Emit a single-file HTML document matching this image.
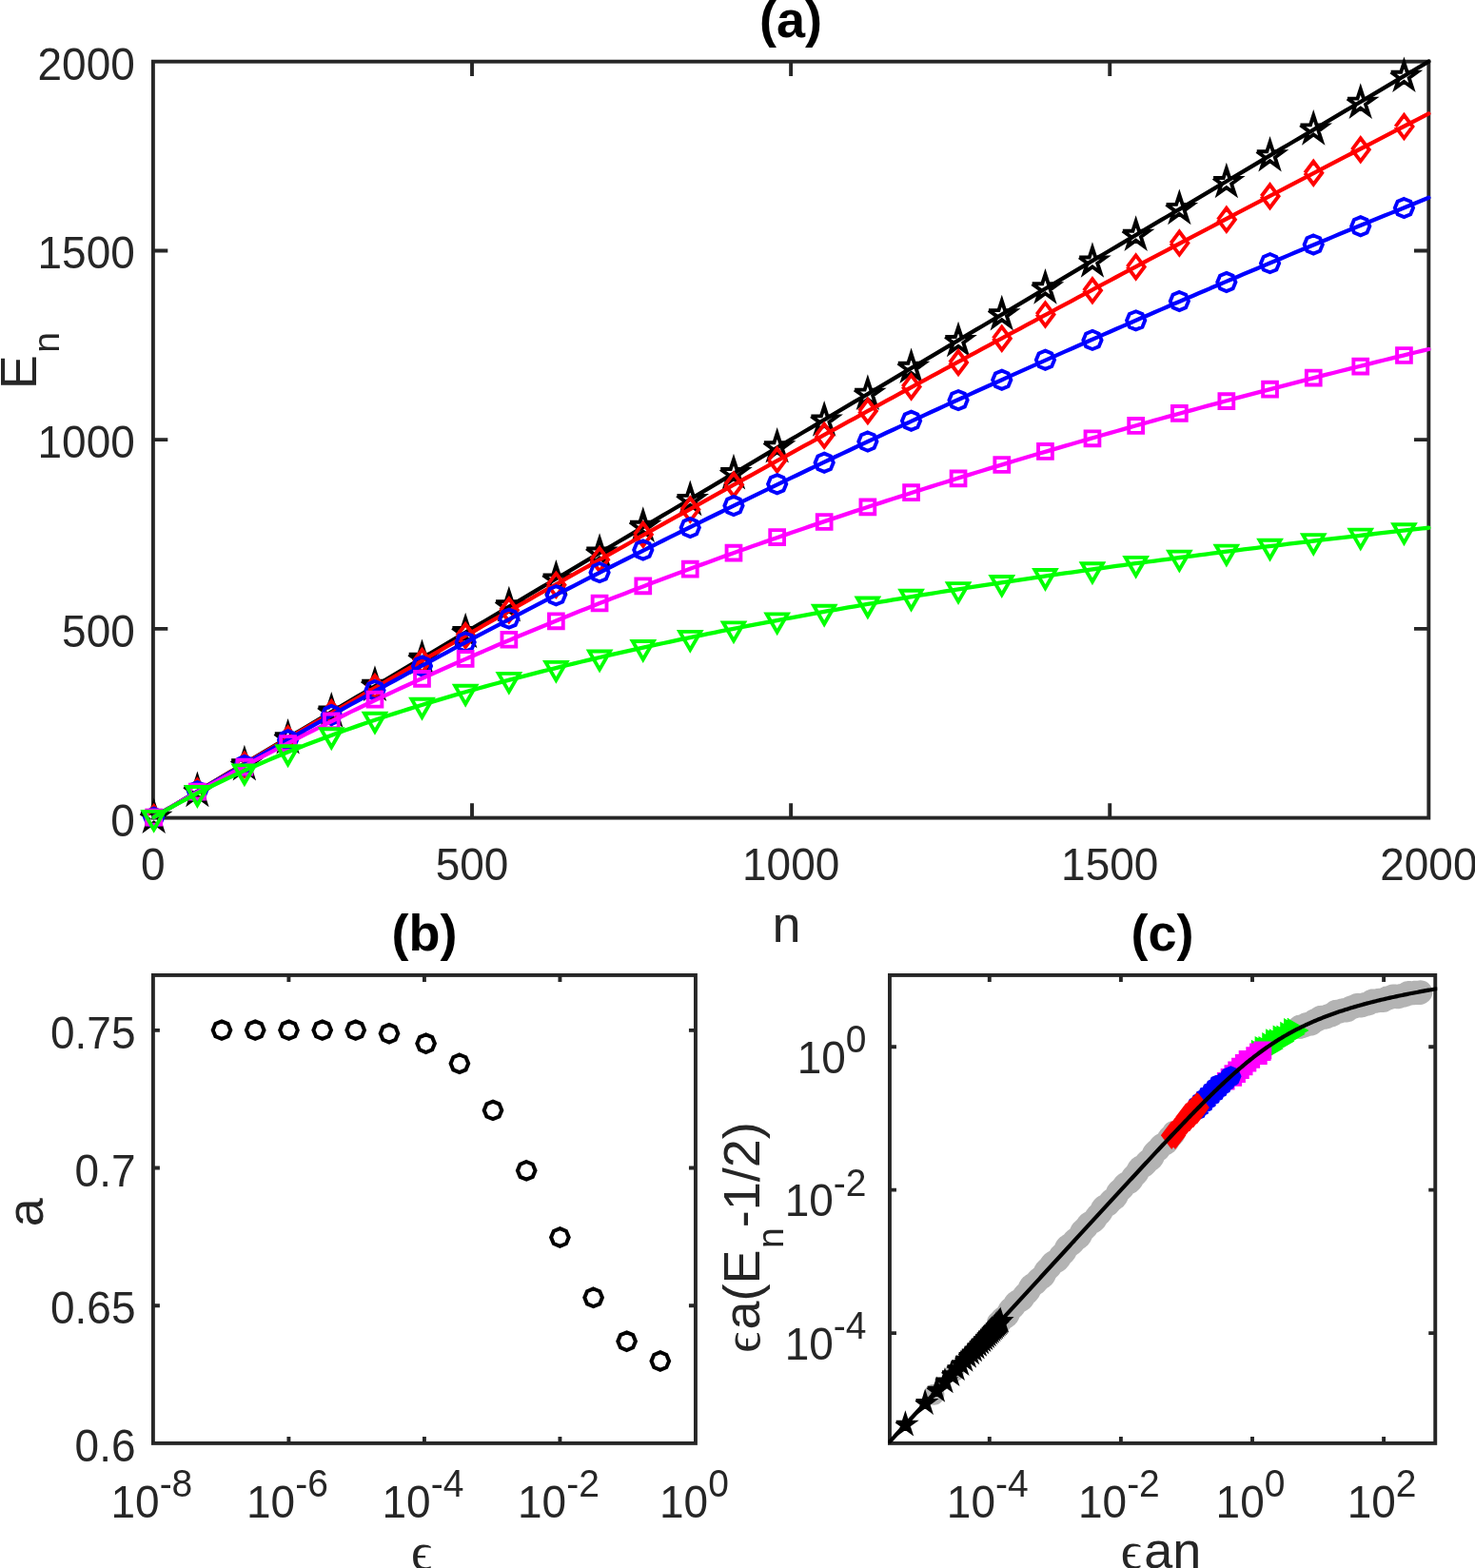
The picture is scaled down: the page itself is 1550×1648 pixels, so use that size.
<!DOCTYPE html>
<html><head><meta charset="utf-8"><title>figure</title>
<style>
html,body{margin:0;padding:0;background:#fff;}
body{width:1550px;height:1648px;overflow:hidden;}
svg{display:block;font-family:"Liberation Sans", Arial, sans-serif;}
</style></head><body>
<svg width="1550" height="1648" viewBox="0 0 1550 1648">
<rect width="1550" height="1648" fill="#fff"/>
<defs><clipPath id="ca"><rect x="157.9" y="61.7" width="1346.45" height="800.9"/></clipPath><clipPath id="cc"><rect x="932.95" y="1022.95" width="577.3" height="495.95"/></clipPath></defs>
<path d="M496.01 859.6V844.2M496.01 64.7V80.1M831.12 859.6V844.2M831.12 64.7V80.1M1166.24 859.6V844.2M1166.24 64.7V80.1M160.9 660.88H176.3M1501.35 660.88H1485.95M160.9 462.15H176.3M1501.35 462.15H1485.95M160.9 263.43H176.3M1501.35 263.43H1485.95" stroke="#262626" stroke-width="3.9" fill="none"/>
<rect x="160.9" y="64.7" width="1340.45" height="794.9" fill="none" stroke="#262626" stroke-width="3.9" stroke-linejoin="miter"/>
<path d="M161.57 859L167.6 855.43L174.3 851.45L181.01 847.48L187.71 843.5L194.41 839.53L201.11 835.55L207.82 831.58L214.52 827.61L221.22 823.63L227.92 819.66L234.62 815.68L241.33 811.71L248.03 807.73L254.73 803.76L261.43 799.78L268.14 795.81L274.84 791.84L281.54 787.86L288.24 783.89L294.94 779.91L301.65 775.94L308.35 771.96L315.05 767.99L321.75 764.01L328.46 760.04L335.16 756.07L341.86 752.09L348.56 748.12L355.27 744.14L361.97 740.17L368.67 736.19L375.37 732.22L382.07 728.24L388.78 724.27L395.48 720.3L402.18 716.32L408.88 712.35L415.59 708.37L422.29 704.4L428.99 700.42L435.69 696.45L442.39 692.47L449.1 688.5L455.8 684.53L462.5 680.55L469.2 676.58L475.91 672.6L482.61 668.63L489.31 664.65L496.01 660.68L502.71 656.71L509.42 652.73L516.12 648.76L522.82 644.78L529.52 640.81L536.23 636.83L542.93 632.86L549.63 628.89L556.33 624.91L563.03 620.94L569.74 616.96L576.44 612.99L583.14 609.01L589.84 605.04L596.55 601.07L603.25 597.09L609.95 593.12L616.65 589.14L623.36 585.17L630.06 581.19L636.76 577.22L643.46 573.25L650.16 569.27L656.87 565.3L663.57 561.32L670.27 557.35L676.97 553.37L683.68 549.4L690.38 545.43L697.08 541.45L703.78 537.48L710.48 533.5L717.19 529.53L723.89 525.55L730.59 521.58L737.29 517.61L744 513.63L750.7 509.66L757.4 505.68L764.1 501.71L770.8 497.73L777.51 493.76L784.21 489.79L790.91 485.81L797.61 481.84L804.32 477.86L811.02 473.89L817.72 469.91L824.42 465.94L831.12 461.97L837.83 457.99L844.53 454.02L851.23 450.04L857.93 446.07L864.64 442.1L871.34 438.12L878.04 434.15L884.74 430.17L891.45 426.2L898.15 422.22L904.85 418.25L911.55 414.28L918.25 410.3L924.96 406.33L931.66 402.35L938.36 398.38L945.06 394.41L951.77 390.43L958.47 386.46L965.17 382.48L971.87 378.51L978.57 374.53L985.28 370.56L991.98 366.59L998.68 362.61L1005.38 358.64L1012.09 354.66L1018.79 350.69L1025.49 346.72L1032.19 342.74L1038.89 338.77L1045.6 334.79L1052.3 330.82L1059 326.85L1065.7 322.87L1072.41 318.9L1079.11 314.92L1085.81 310.95L1092.51 306.97L1099.21 303L1105.92 299.03L1112.62 295.05L1119.32 291.08L1126.02 287.1L1132.73 283.13L1139.43 279.16L1146.13 275.18L1152.83 271.21L1159.54 267.23L1166.24 263.26L1172.94 259.29L1179.64 255.31L1186.34 251.34L1193.05 247.36L1199.75 243.39L1206.45 239.42L1213.15 235.44L1219.86 231.47L1226.56 227.49L1233.26 223.52L1239.96 219.55L1246.66 215.57L1253.37 211.6L1260.07 207.62L1266.77 203.65L1273.47 199.68L1280.18 195.7L1286.88 191.73L1293.58 187.75L1300.28 183.78L1306.98 179.81L1313.69 175.83L1320.39 171.86L1327.09 167.88L1333.79 163.91L1340.5 159.94L1347.2 155.96L1353.9 151.99L1360.6 148.01L1367.3 144.04L1374.01 140.07L1380.71 136.09L1387.41 132.12L1394.11 128.14L1400.82 124.17L1407.52 120.2L1414.22 116.22L1420.92 112.25L1427.63 108.27L1434.33 104.3L1441.03 100.33L1447.73 96.35L1454.43 92.38L1461.14 88.4L1467.84 84.43L1474.54 80.46L1481.24 76.48L1487.95 72.51L1494.65 68.53L1501.35 64.56" fill="none" stroke="#000000" stroke-width="4.3" stroke-linejoin="round" stroke-linecap="round" clip-path="url(#ca)"/>
<path d="M147.9 854.72L158.43 854.72L161.69 844.7L164.94 854.72L175.48 854.72L166.95 860.91L170.21 870.93L161.69 864.74L153.16 870.93L156.42 860.91L147.9 854.72M193.59 826.9L204.13 826.9L207.38 816.88L210.64 826.9L221.17 826.9L212.65 833.09L215.9 843.11L207.38 836.92L198.86 843.11L202.11 833.09L193.59 826.9M243.1 799.08L253.63 799.08L256.89 789.06L260.14 799.08L270.68 799.08L262.15 805.27L265.41 815.29L256.89 809.1L248.36 815.29L251.62 805.27L243.1 799.08M288.79 771.26L299.33 771.26L302.58 761.24L305.84 771.26L316.37 771.26L307.85 777.45L311.1 787.47L302.58 781.28L294.06 787.47L297.31 777.45L288.79 771.26M334.49 743.44L345.02 743.44L348.28 733.42L351.53 743.44L362.07 743.44L353.55 749.63L356.8 759.65L348.28 753.46L339.76 759.65L343.01 749.63L334.49 743.44M380.18 715.62L390.72 715.62L393.97 705.6L397.23 715.62L407.76 715.62L399.24 721.81L402.5 731.83L393.97 725.64L385.45 731.83L388.71 721.81L380.18 715.62M429.69 687.8L440.22 687.8L443.48 677.78L446.73 687.8L457.27 687.8L448.75 693.99L452 704.01L443.48 697.82L434.96 704.01L438.21 693.99L429.69 687.8M475.38 659.97L485.92 659.97L489.17 649.96L492.43 659.97L502.96 659.97L494.44 666.17L497.7 676.19L489.17 669.99L480.65 676.19L483.91 666.17L475.38 659.97M521.08 632.15L531.61 632.15L534.87 622.14L538.13 632.15L548.66 632.15L540.14 638.35L543.39 648.37L534.87 642.17L526.35 648.37L529.6 638.35L521.08 632.15M570.58 604.33L581.12 604.33L584.37 594.31L587.63 604.33L598.16 604.33L589.64 610.53L592.9 620.55L584.37 614.35L575.85 620.55L579.11 610.53L570.58 604.33M616.28 576.51L626.81 576.51L630.07 566.49L633.33 576.51L643.86 576.51L635.34 582.71L638.59 592.73L630.07 586.53L621.55 592.73L624.8 582.71L616.28 576.51M661.98 548.69L672.51 548.69L675.77 538.67L679.02 548.69L689.56 548.69L681.03 554.89L684.29 564.91L675.77 558.71L667.24 564.91L670.5 554.89L661.98 548.69M711.48 520.87L722.01 520.87L725.27 510.86L728.53 520.87L739.06 520.87L730.54 527.07L733.79 537.09L725.27 530.89L716.75 537.09L720 527.07L711.48 520.87M757.18 493.05L767.71 493.05L770.97 483.04L774.22 493.05L784.76 493.05L776.23 499.25L779.49 509.27L770.97 503.07L762.44 509.27L765.7 499.25L757.18 493.05M802.87 465.24L813.41 465.23L816.66 455.22L819.92 465.23L830.45 465.24L821.93 471.43L825.18 481.45L816.66 475.25L808.14 481.45L811.39 471.43L802.87 465.24M852.38 437.42L862.91 437.42L866.17 427.4L869.42 437.42L879.96 437.42L871.43 443.61L874.69 453.63L866.17 447.44L857.64 453.63L860.9 443.61L852.38 437.42M898.07 409.6L908.61 409.6L911.86 399.58L915.12 409.6L925.65 409.6L917.13 415.79L920.38 425.81L911.86 419.62L903.34 425.81L906.59 415.79L898.07 409.6M943.77 381.78L954.3 381.78L957.56 371.76L960.81 381.78L971.35 381.78L962.83 387.97L966.08 397.99L957.56 391.8L949.04 397.99L952.29 387.97L943.77 381.78M993.27 353.96L1003.81 353.96L1007.06 343.94L1010.32 353.96L1020.85 353.96L1012.33 360.15L1015.58 370.17L1007.06 363.98L998.54 370.17L1001.79 360.15L993.27 353.96M1038.97 326.14L1049.5 326.14L1052.76 316.12L1056.01 326.14L1066.55 326.14L1058.03 332.33L1061.28 342.35L1052.76 336.16L1044.24 342.35L1047.49 332.33L1038.97 326.14M1084.66 298.32L1095.2 298.32L1098.45 288.3L1101.71 298.32L1112.24 298.32L1103.72 304.51L1106.98 314.53L1098.45 308.34L1089.93 314.53L1093.19 304.51L1084.66 298.32M1134.17 270.5L1144.7 270.5L1147.96 260.48L1151.21 270.5L1161.75 270.5L1153.23 276.69L1156.48 286.71L1147.96 280.52L1139.44 286.71L1142.69 276.69L1134.17 270.5M1179.86 242.68L1190.4 242.68L1193.65 232.66L1196.91 242.68L1207.44 242.68L1198.92 248.88L1202.18 258.9L1193.65 252.7L1185.13 258.9L1188.39 248.88L1179.86 242.68M1225.56 214.87L1236.09 214.87L1239.35 204.85L1242.61 214.87L1253.14 214.87L1244.62 221.06L1247.87 231.08L1239.35 224.89L1230.83 231.08L1234.08 221.06L1225.56 214.87M1275.06 187.05L1285.6 187.05L1288.85 177.03L1292.11 187.05L1302.64 187.05L1294.12 193.24L1297.38 203.26L1288.85 197.07L1280.33 203.26L1283.59 193.24L1275.06 187.05M1320.76 159.23L1331.29 159.23L1334.55 149.21L1337.81 159.23L1348.34 159.23L1339.82 165.42L1343.07 175.44L1334.55 169.25L1326.03 175.44L1329.28 165.42L1320.76 159.23M1366.46 131.41L1376.99 131.41L1380.25 121.39L1383.5 131.41L1394.04 131.41L1385.51 137.6L1388.77 147.62L1380.25 141.43L1371.72 147.62L1374.98 137.6L1366.46 131.41M1415.96 103.59L1426.49 103.59L1429.75 93.58L1433.01 103.59L1443.54 103.59L1435.02 109.79L1438.27 119.81L1429.75 113.61L1421.23 119.81L1424.48 109.79L1415.96 103.59M1461.66 75.78L1472.19 75.78L1475.45 65.76L1478.7 75.78L1489.24 75.78L1480.71 81.97L1483.97 91.99L1475.45 85.8L1466.92 91.99L1470.18 81.97L1461.66 75.78" fill="none" stroke="#000000" stroke-width="3.9" stroke-linejoin="miter" stroke-miterlimit="10" stroke-linecap="butt"/>
<path d="M161.57 859L167.6 855.43L174.3 851.46L181.01 847.49L187.71 843.53L194.41 839.57L201.11 835.61L207.82 831.65L214.52 827.7L221.22 823.75L227.92 819.81L234.62 815.86L241.33 811.92L248.03 807.99L254.73 804.05L261.43 800.12L268.14 796.19L274.84 792.27L281.54 788.35L288.24 784.43L294.94 780.51L301.65 776.6L308.35 772.69L315.05 768.78L321.75 764.87L328.46 760.97L335.16 757.07L341.86 753.18L348.56 749.28L355.27 745.39L361.97 741.51L368.67 737.62L375.37 733.74L382.07 729.86L388.78 725.98L395.48 722.11L402.18 718.24L408.88 714.37L415.59 710.51L422.29 706.65L428.99 702.79L435.69 698.93L442.39 695.08L449.1 691.23L455.8 687.38L462.5 683.54L469.2 679.7L475.91 675.86L482.61 672.02L489.31 668.19L496.01 664.36L502.71 660.53L509.42 656.71L516.12 652.88L522.82 649.07L529.52 645.25L536.23 641.44L542.93 637.62L549.63 633.82L556.33 630.01L563.03 626.21L569.74 622.41L576.44 618.61L583.14 614.82L589.84 611.03L596.55 607.24L603.25 603.45L609.95 599.67L616.65 595.89L623.36 592.11L630.06 588.33L636.76 584.56L643.46 580.79L650.16 577.03L656.87 573.26L663.57 569.5L670.27 565.74L676.97 561.98L683.68 558.23L690.38 554.48L697.08 550.73L703.78 546.99L710.48 543.24L717.19 539.5L723.89 535.77L730.59 532.03L737.29 528.3L744 524.57L750.7 520.84L757.4 517.12L764.1 513.4L770.8 509.68L777.51 505.96L784.21 502.25L790.91 498.54L797.61 494.83L804.32 491.13L811.02 487.42L817.72 483.72L824.42 480.03L831.12 476.33L837.83 472.64L844.53 468.95L851.23 465.26L857.93 461.58L864.64 457.89L871.34 454.21L878.04 450.54L884.74 446.86L891.45 443.19L898.15 439.52L904.85 435.86L911.55 432.19L918.25 428.53L924.96 424.87L931.66 421.22L938.36 417.56L945.06 413.91L951.77 410.26L958.47 406.62L965.17 402.97L971.87 399.33L978.57 395.69L985.28 392.06L991.98 388.42L998.68 384.79L1005.38 381.16L1012.09 377.54L1018.79 373.91L1025.49 370.29L1032.19 366.67L1038.89 363.06L1045.6 359.45L1052.3 355.83L1059 352.23L1065.7 348.62L1072.41 345.02L1079.11 341.42L1085.81 337.82L1092.51 334.22L1099.21 330.63L1105.92 327.04L1112.62 323.45L1119.32 319.86L1126.02 316.28L1132.73 312.7L1139.43 309.12L1146.13 305.54L1152.83 301.97L1159.54 298.4L1166.24 294.83L1172.94 291.26L1179.64 287.7L1186.34 284.14L1193.05 280.58L1199.75 277.02L1206.45 273.47L1213.15 269.91L1219.86 266.36L1226.56 262.82L1233.26 259.27L1239.96 255.73L1246.66 252.19L1253.37 248.65L1260.07 245.12L1266.77 241.58L1273.47 238.05L1280.18 234.52L1286.88 231L1293.58 227.48L1300.28 223.95L1306.98 220.44L1313.69 216.92L1320.39 213.41L1327.09 209.89L1333.79 206.39L1340.5 202.88L1347.2 199.37L1353.9 195.87L1360.6 192.37L1367.3 188.88L1374.01 185.38L1380.71 181.89L1387.41 178.4L1394.11 174.91L1400.82 171.42L1407.52 167.94L1414.22 164.46L1420.92 160.98L1427.63 157.5L1434.33 154.03L1441.03 150.56L1447.73 147.09L1454.43 143.62L1461.14 140.16L1467.84 136.69L1474.54 133.23L1481.24 129.77L1487.95 126.32L1494.65 122.87L1501.35 119.41" fill="none" stroke="#ff0000" stroke-width="4.3" stroke-linejoin="round" stroke-linecap="round" clip-path="url(#ca)"/>
<path d="M152.69 859.2L161.69 847.2L170.69 859.2L161.69 871.2L152.69 859.2M198.38 831.46L207.38 819.46L216.38 831.46L207.38 843.46L198.38 831.46M247.89 803.86L256.89 791.86L265.89 803.86L256.89 815.86L247.89 803.86M293.58 776.4L302.58 764.4L311.58 776.4L302.58 788.4L293.58 776.4M339.28 749.09L348.28 737.09L357.28 749.09L348.28 761.09L339.28 749.09M384.97 721.92L393.97 709.92L402.97 721.92L393.97 733.92L384.97 721.92M434.48 694.89L443.48 682.89L452.48 694.89L443.48 706.89L434.48 694.89M480.17 668L489.17 656L498.17 668L489.17 680L480.17 668M525.87 641.24L534.87 629.24L543.87 641.24L534.87 653.24L525.87 641.24M575.37 614.63L584.37 602.63L593.37 614.63L584.37 626.63L575.37 614.63M621.07 588.15L630.07 576.15L639.07 588.15L630.07 600.15L621.07 588.15M666.77 561.8L675.77 549.8L684.77 561.8L675.77 573.8L666.77 561.8M716.27 535.58L725.27 523.58L734.27 535.58L725.27 547.58L716.27 535.58M761.97 509.49L770.97 497.49L779.97 509.49L770.97 521.49L761.97 509.49M807.66 483.54L816.66 471.54L825.66 483.54L816.66 495.54L807.66 483.54M857.17 457.71L866.17 445.71L875.17 457.71L866.17 469.71L857.17 457.71M902.86 432.01L911.86 420.01L920.86 432.01L911.86 444.01L902.86 432.01M948.56 406.43L957.56 394.43L966.56 406.43L957.56 418.43L948.56 406.43M998.06 380.98L1007.06 368.98L1016.06 380.98L1007.06 392.98L998.06 380.98M1043.76 355.65L1052.76 343.65L1061.76 355.65L1052.76 367.65L1043.76 355.65M1089.45 330.45L1098.45 318.45L1107.45 330.45L1098.45 342.45L1089.45 330.45M1138.96 305.36L1147.96 293.36L1156.96 305.36L1147.96 317.36L1138.96 305.36M1184.65 280.4L1193.65 268.4L1202.65 280.4L1193.65 292.4L1184.65 280.4M1230.35 255.55L1239.35 243.55L1248.35 255.55L1239.35 267.55L1230.35 255.55M1279.85 230.82L1288.85 218.82L1297.85 230.82L1288.85 242.82L1279.85 230.82M1325.55 206.21L1334.55 194.21L1343.55 206.21L1334.55 218.21L1325.55 206.21M1371.25 181.71L1380.25 169.71L1389.25 181.71L1380.25 193.71L1371.25 181.71M1420.75 157.33L1429.75 145.33L1438.75 157.33L1429.75 169.33L1420.75 157.33M1466.45 133.06L1475.45 121.06L1484.45 133.06L1475.45 145.06L1466.45 133.06" fill="none" stroke="#ff0000" stroke-width="3.9" stroke-linejoin="miter" stroke-miterlimit="10" stroke-linecap="butt"/>
<path d="M161.57 859L167.6 855.43L174.3 851.47L181.01 847.52L187.71 843.58L194.41 839.64L201.11 835.72L207.82 831.81L214.52 827.9L221.22 824L227.92 820.12L234.62 816.24L241.33 812.37L248.03 808.51L254.73 804.65L261.43 800.81L268.14 796.98L274.84 793.15L281.54 789.33L288.24 785.52L294.94 781.72L301.65 777.93L308.35 774.15L315.05 770.37L321.75 766.61L328.46 762.85L335.16 759.1L341.86 755.36L348.56 751.62L355.27 747.9L361.97 744.18L368.67 740.47L375.37 736.77L382.07 733.08L388.78 729.4L395.48 725.72L402.18 722.05L408.88 718.39L415.59 714.74L422.29 711.09L428.99 707.46L435.69 703.83L442.39 700.21L449.1 696.59L455.8 692.99L462.5 689.39L469.2 685.8L475.91 682.21L482.61 678.64L489.31 675.07L496.01 671.51L502.71 667.96L509.42 664.41L516.12 660.87L522.82 657.34L529.52 653.82L536.23 650.3L542.93 646.8L549.63 643.29L556.33 639.8L563.03 636.31L569.74 632.83L576.44 629.36L583.14 625.9L589.84 622.44L596.55 618.99L603.25 615.54L609.95 612.1L616.65 608.67L623.36 605.25L630.06 601.83L636.76 598.42L643.46 595.02L650.16 591.63L656.87 588.24L663.57 584.85L670.27 581.48L676.97 578.11L683.68 574.75L690.38 571.39L697.08 568.04L703.78 564.7L710.48 561.37L717.19 558.04L723.89 554.71L730.59 551.4L737.29 548.09L744 544.78L750.7 541.49L757.4 538.2L764.1 534.91L770.8 531.64L777.51 528.37L784.21 525.1L790.91 521.84L797.61 518.59L804.32 515.34L811.02 512.1L817.72 508.87L824.42 505.64L831.12 502.42L837.83 499.21L844.53 496L851.23 492.79L857.93 489.6L864.64 486.41L871.34 483.22L878.04 480.04L884.74 476.87L891.45 473.7L898.15 470.54L904.85 467.39L911.55 464.24L918.25 461.09L924.96 457.96L931.66 454.82L938.36 451.7L945.06 448.58L951.77 445.46L958.47 442.36L965.17 439.25L971.87 436.15L978.57 433.06L985.28 429.98L991.98 426.9L998.68 423.82L1005.38 420.75L1012.09 417.69L1018.79 414.63L1025.49 411.58L1032.19 408.53L1038.89 405.49L1045.6 402.45L1052.3 399.42L1059 396.4L1065.7 393.38L1072.41 390.36L1079.11 387.35L1085.81 384.35L1092.51 381.35L1099.21 378.36L1105.92 375.37L1112.62 372.39L1119.32 369.41L1126.02 366.44L1132.73 363.47L1139.43 360.51L1146.13 357.55L1152.83 354.6L1159.54 351.65L1166.24 348.71L1172.94 345.78L1179.64 342.85L1186.34 339.92L1193.05 337L1199.75 334.08L1206.45 331.17L1213.15 328.27L1219.86 325.37L1226.56 322.47L1233.26 319.58L1239.96 316.69L1246.66 313.81L1253.37 310.94L1260.07 308.06L1266.77 305.2L1273.47 302.34L1280.18 299.48L1286.88 296.63L1293.58 293.78L1300.28 290.94L1306.98 288.1L1313.69 285.27L1320.39 282.44L1327.09 279.62L1333.79 276.8L1340.5 273.98L1347.2 271.17L1353.9 268.37L1360.6 265.57L1367.3 262.77L1374.01 259.98L1380.71 257.2L1387.41 254.42L1394.11 251.64L1400.82 248.87L1407.52 246.1L1414.22 243.34L1420.92 240.58L1427.63 237.82L1434.33 235.07L1441.03 232.33L1447.73 229.59L1454.43 226.85L1461.14 224.12L1467.84 221.39L1474.54 218.67L1481.24 215.95L1487.95 213.23L1494.65 210.52L1501.35 207.82" fill="none" stroke="#0000ff" stroke-width="4.3" stroke-linejoin="round" stroke-linecap="round" clip-path="url(#ca)"/>
<path d="M161.69 849.6L168.47 852.41L171.29 859.2L168.47 865.99L161.69 868.8L154.9 865.99L152.09 859.2L154.9 852.41ZM207.38 822.01L214.17 824.82L216.98 831.61L214.17 838.4L207.38 841.21L200.59 838.4L197.78 831.61L200.59 824.82ZM256.89 794.86L263.67 797.67L266.49 804.46L263.67 811.25L256.89 814.06L250.1 811.25L247.29 804.46L250.1 797.67ZM302.58 768.14L309.37 770.95L312.18 777.74L309.37 784.53L302.58 787.34L295.79 784.53L292.98 777.74L295.79 770.95ZM348.28 741.84L355.07 744.65L357.88 751.44L355.07 758.23L348.28 761.04L341.49 758.23L338.68 751.44L341.49 744.65ZM393.97 715.94L400.76 718.75L403.57 725.54L400.76 732.32L393.97 735.14L387.19 732.32L384.37 725.54L387.19 718.75ZM443.48 690.42L450.27 693.24L453.08 700.02L450.27 706.81L443.48 709.62L436.69 706.81L433.88 700.02L436.69 693.24ZM489.17 665.29L495.96 668.1L498.77 674.89L495.96 681.68L489.17 684.49L482.39 681.68L479.57 674.89L482.39 668.1ZM534.87 640.53L541.66 643.34L544.47 650.13L541.66 656.92L534.87 659.73L528.08 656.92L525.27 650.13L528.08 643.34ZM584.37 616.12L591.16 618.93L593.97 625.72L591.16 632.51L584.37 635.32L577.59 632.51L574.77 625.72L577.59 618.93ZM630.07 592.06L636.86 594.87L639.67 601.66L636.86 608.45L630.07 611.26L623.28 608.45L620.47 601.66L623.28 594.87ZM675.77 568.34L682.55 571.15L685.37 577.94L682.55 584.73L675.77 587.54L668.98 584.73L666.17 577.94L668.98 571.15ZM725.27 544.95L732.06 547.76L734.87 554.55L732.06 561.34L725.27 564.15L718.48 561.34L715.67 554.55L718.48 547.76ZM770.97 521.87L777.75 524.68L780.57 531.47L777.75 538.26L770.97 541.07L764.18 538.26L761.37 531.47L764.18 524.68ZM816.66 499.11L823.45 501.92L826.26 508.71L823.45 515.5L816.66 518.31L809.87 515.5L807.06 508.71L809.87 501.92ZM866.17 476.65L872.95 479.46L875.77 486.25L872.95 493.04L866.17 495.85L859.38 493.04L856.57 486.25L859.38 479.46ZM911.86 454.48L918.65 457.29L921.46 464.08L918.65 470.87L911.86 473.68L905.07 470.87L902.26 464.08L905.07 457.29ZM957.56 432.6L964.35 435.41L967.16 442.2L964.35 448.99L957.56 451.8L950.77 448.99L947.96 442.2L950.77 435.41ZM1007.06 411L1013.85 413.81L1016.66 420.6L1013.85 427.39L1007.06 430.2L1000.27 427.39L997.46 420.6L1000.27 413.81ZM1052.76 389.67L1059.55 392.48L1062.36 399.27L1059.55 406.06L1052.76 408.87L1045.97 406.06L1043.16 399.27L1045.97 392.48ZM1098.45 368.61L1105.24 371.42L1108.05 378.21L1105.24 385L1098.45 387.81L1091.67 385L1088.85 378.21L1091.67 371.42ZM1147.96 347.8L1154.75 350.62L1157.56 357.4L1154.75 364.19L1147.96 367L1141.17 364.19L1138.36 357.4L1141.17 350.62ZM1193.65 327.25L1200.44 330.06L1203.25 336.85L1200.44 343.64L1193.65 346.45L1186.87 343.64L1184.05 336.85L1186.87 330.06ZM1239.35 306.95L1246.14 309.76L1248.95 316.55L1246.14 323.34L1239.35 326.15L1232.56 323.34L1229.75 316.55L1232.56 309.76ZM1288.85 286.88L1295.64 289.7L1298.45 296.48L1295.64 303.27L1288.85 306.08L1282.07 303.27L1279.25 296.48L1282.07 289.7ZM1334.55 267.06L1341.34 269.87L1344.15 276.66L1341.34 283.44L1334.55 286.26L1327.76 283.44L1324.95 276.66L1327.76 269.87ZM1380.25 247.46L1387.03 250.27L1389.85 257.06L1387.03 263.85L1380.25 266.66L1373.46 263.85L1370.65 257.06L1373.46 250.27ZM1429.75 228.08L1436.54 230.9L1439.35 237.68L1436.54 244.47L1429.75 247.28L1422.96 244.47L1420.15 237.68L1422.96 230.9ZM1475.45 208.93L1482.23 211.74L1485.05 218.53L1482.23 225.32L1475.45 228.13L1468.66 225.32L1465.85 218.53L1468.66 211.74Z" fill="none" stroke="#0000ff" stroke-width="3.9" stroke-linejoin="miter" stroke-miterlimit="10" stroke-linecap="butt"/>
<path d="M161.57 859L167.6 855.44L174.3 851.51L181.01 847.6L187.71 843.73L194.41 839.88L201.11 836.06L207.82 832.26L214.52 828.49L221.22 824.74L227.92 821.02L234.62 817.33L241.33 813.66L248.03 810.01L254.73 806.39L261.43 802.79L268.14 799.21L274.84 795.66L281.54 792.13L288.24 788.62L294.94 785.14L301.65 781.68L308.35 778.23L315.05 774.81L321.75 771.41L328.46 768.04L335.16 764.68L341.86 761.34L348.56 758.02L355.27 754.72L361.97 751.45L368.67 748.19L375.37 744.95L382.07 741.73L388.78 738.52L395.48 735.34L402.18 732.17L408.88 729.03L415.59 725.9L422.29 722.79L428.99 719.69L435.69 716.61L442.39 713.55L449.1 710.51L455.8 707.48L462.5 704.47L469.2 701.48L475.91 698.5L482.61 695.54L489.31 692.6L496.01 689.67L502.71 686.75L509.42 683.85L516.12 680.97L522.82 678.1L529.52 675.24L536.23 672.4L542.93 669.58L549.63 666.77L556.33 663.97L563.03 661.19L569.74 658.42L576.44 655.67L583.14 652.92L589.84 650.2L596.55 647.48L603.25 644.78L609.95 642.09L616.65 639.42L623.36 636.76L630.06 634.11L636.76 631.47L643.46 628.85L650.16 626.24L656.87 623.64L663.57 621.05L670.27 618.48L676.97 615.91L683.68 613.36L690.38 610.82L697.08 608.3L703.78 605.78L710.48 603.27L717.19 600.78L723.89 598.3L730.59 595.83L737.29 593.37L744 590.92L750.7 588.48L757.4 586.05L764.1 583.64L770.8 581.23L777.51 578.83L784.21 576.45L790.91 574.07L797.61 571.71L804.32 569.35L811.02 567.01L817.72 564.67L824.42 562.35L831.12 560.03L837.83 557.72L844.53 555.43L851.23 553.14L857.93 550.86L864.64 548.6L871.34 546.34L878.04 544.09L884.74 541.85L891.45 539.62L898.15 537.39L904.85 535.18L911.55 532.98L918.25 530.78L924.96 528.59L931.66 526.41L938.36 524.24L945.06 522.08L951.77 519.93L958.47 517.78L965.17 515.65L971.87 513.52L978.57 511.4L985.28 509.29L991.98 507.18L998.68 505.09L1005.38 503L1012.09 500.92L1018.79 498.85L1025.49 496.78L1032.19 494.73L1038.89 492.68L1045.6 490.64L1052.3 488.6L1059 486.58L1065.7 484.56L1072.41 482.55L1079.11 480.54L1085.81 478.54L1092.51 476.55L1099.21 474.57L1105.92 472.59L1112.62 470.63L1119.32 468.66L1126.02 466.71L1132.73 464.76L1139.43 462.82L1146.13 460.89L1152.83 458.96L1159.54 457.04L1166.24 455.12L1172.94 453.22L1179.64 451.32L1186.34 449.42L1193.05 447.53L1199.75 445.65L1206.45 443.78L1213.15 441.91L1219.86 440.05L1226.56 438.19L1233.26 436.34L1239.96 434.5L1246.66 432.66L1253.37 430.83L1260.07 429L1266.77 427.18L1273.47 425.37L1280.18 423.56L1286.88 421.76L1293.58 419.96L1300.28 418.17L1306.98 416.39L1313.69 414.61L1320.39 412.84L1327.09 411.07L1333.79 409.31L1340.5 407.55L1347.2 405.8L1353.9 404.06L1360.6 402.32L1367.3 400.58L1374.01 398.86L1380.71 397.13L1387.41 395.42L1394.11 393.7L1400.82 392L1407.52 390.29L1414.22 388.6L1420.92 386.91L1427.63 385.22L1434.33 383.54L1441.03 381.86L1447.73 380.19L1454.43 378.53L1461.14 376.87L1467.84 375.21L1474.54 373.56L1481.24 371.91L1487.95 370.27L1494.65 368.64L1501.35 367.01" fill="none" stroke="#ff00ff" stroke-width="4.3" stroke-linejoin="round" stroke-linecap="round" clip-path="url(#ca)"/>
<path d="M154.29 851.8L169.09 851.8L169.09 866.6L154.29 866.6ZM199.98 824.67L214.78 824.67L214.78 839.47L199.98 839.47ZM249.49 798.81L264.29 798.81L264.29 813.61L249.49 813.61ZM295.18 774.1L309.98 774.1L309.98 788.9L295.18 788.9ZM340.88 750.46L355.68 750.46L355.68 765.26L340.88 765.26ZM386.57 727.78L401.37 727.78L401.37 742.58L386.57 742.58ZM436.08 706L450.88 706L450.88 720.8L436.08 720.8ZM481.77 685.05L496.57 685.05L496.57 699.85L481.77 699.85ZM527.47 664.86L542.27 664.86L542.27 679.66L527.47 679.66ZM576.97 645.39L591.77 645.39L591.77 660.19L576.97 660.19ZM622.67 626.58L637.47 626.58L637.47 641.38L622.67 641.38ZM668.37 608.39L683.17 608.39L683.17 623.19L668.37 623.19ZM717.87 590.78L732.67 590.78L732.67 605.58L717.87 605.58ZM763.57 573.71L778.37 573.71L778.37 588.51L763.57 588.51ZM809.26 557.16L824.06 557.16L824.06 571.96L809.26 571.96ZM858.77 541.08L873.57 541.08L873.57 555.88L858.77 555.88ZM904.46 525.47L919.26 525.47L919.26 540.27L904.46 540.27ZM950.16 510.28L964.96 510.28L964.96 525.08L950.16 525.08ZM999.66 495.5L1014.46 495.5L1014.46 510.3L999.66 510.3ZM1045.36 481.1L1060.16 481.1L1060.16 495.9L1045.36 495.9ZM1091.05 467.07L1105.85 467.07L1105.85 481.87L1091.05 481.87ZM1140.56 453.39L1155.36 453.39L1155.36 468.19L1140.56 468.19ZM1186.25 440.04L1201.05 440.04L1201.05 454.84L1186.25 454.84ZM1231.95 427L1246.75 427L1246.75 441.8L1231.95 441.8ZM1281.45 414.27L1296.25 414.27L1296.25 429.07L1281.45 429.07ZM1327.15 401.82L1341.95 401.82L1341.95 416.62L1327.15 416.62ZM1372.85 389.65L1387.65 389.65L1387.65 404.45L1372.85 404.45ZM1422.35 377.74L1437.15 377.74L1437.15 392.54L1422.35 392.54ZM1468.05 366.08L1482.85 366.08L1482.85 380.88L1468.05 380.88Z" fill="none" stroke="#ff00ff" stroke-width="3.9" stroke-linejoin="miter" stroke-miterlimit="10" stroke-linecap="butt"/>
<path d="M161.57 859L167.6 855.47L174.3 851.62L181.01 847.85L187.71 844.16L194.41 840.55L201.11 837L207.82 833.52L214.52 830.11L221.22 826.76L227.92 823.48L234.62 820.25L241.33 817.08L248.03 813.96L254.73 810.89L261.43 807.88L268.14 804.92L274.84 802L281.54 799.13L288.24 796.31L294.94 793.53L301.65 790.79L308.35 788.09L315.05 785.43L321.75 782.81L328.46 780.23L335.16 777.68L341.86 775.17L348.56 772.69L355.27 770.25L361.97 767.84L368.67 765.46L375.37 763.11L382.07 760.8L388.78 758.51L395.48 756.25L402.18 754.02L408.88 751.81L415.59 749.63L422.29 747.48L428.99 745.36L435.69 743.25L442.39 741.18L449.1 739.12L455.8 737.09L462.5 735.08L469.2 733.1L475.91 731.13L482.61 729.19L489.31 727.27L496.01 725.36L502.71 723.48L509.42 721.62L516.12 719.77L522.82 717.95L529.52 716.14L536.23 714.35L542.93 712.58L549.63 710.82L556.33 709.09L563.03 707.36L569.74 705.66L576.44 703.97L583.14 702.3L589.84 700.64L596.55 699L603.25 697.37L609.95 695.75L616.65 694.15L623.36 692.57L630.06 691L636.76 689.44L643.46 687.89L650.16 686.36L656.87 684.84L663.57 683.34L670.27 681.84L676.97 680.36L683.68 678.89L690.38 677.44L697.08 675.99L703.78 674.56L710.48 673.13L717.19 671.72L723.89 670.32L730.59 668.93L737.29 667.55L744 666.18L750.7 664.82L757.4 663.47L764.1 662.14L770.8 660.81L777.51 659.49L784.21 658.18L790.91 656.88L797.61 655.59L804.32 654.31L811.02 653.03L817.72 651.77L824.42 650.51L831.12 649.27L837.83 648.03L844.53 646.8L851.23 645.58L857.93 644.37L864.64 643.16L871.34 641.96L878.04 640.78L884.74 639.59L891.45 638.42L898.15 637.26L904.85 636.1L911.55 634.95L918.25 633.8L924.96 632.67L931.66 631.54L938.36 630.41L945.06 629.3L951.77 628.19L958.47 627.09L965.17 625.99L971.87 624.9L978.57 623.82L985.28 622.75L991.98 621.68L998.68 620.61L1005.38 619.56L1012.09 618.51L1018.79 617.46L1025.49 616.42L1032.19 615.39L1038.89 614.36L1045.6 613.34L1052.3 612.33L1059 611.32L1065.7 610.31L1072.41 609.32L1079.11 608.32L1085.81 607.34L1092.51 606.35L1099.21 605.38L1105.92 604.41L1112.62 603.44L1119.32 602.48L1126.02 601.52L1132.73 600.57L1139.43 599.62L1146.13 598.68L1152.83 597.75L1159.54 596.82L1166.24 595.89L1172.94 594.97L1179.64 594.05L1186.34 593.14L1193.05 592.23L1199.75 591.33L1206.45 590.43L1213.15 589.53L1219.86 588.64L1226.56 587.76L1233.26 586.87L1239.96 586L1246.66 585.12L1253.37 584.26L1260.07 583.39L1266.77 582.53L1273.47 581.67L1280.18 580.82L1286.88 579.97L1293.58 579.13L1300.28 578.29L1306.98 577.45L1313.69 576.62L1320.39 575.79L1327.09 574.97L1333.79 574.14L1340.5 573.33L1347.2 572.51L1353.9 571.7L1360.6 570.9L1367.3 570.09L1374.01 569.29L1380.71 568.5L1387.41 567.7L1394.11 566.92L1400.82 566.13L1407.52 565.35L1414.22 564.57L1420.92 563.79L1427.63 563.02L1434.33 562.25L1441.03 561.49L1447.73 560.72L1454.43 559.96L1461.14 559.21L1467.84 558.46L1474.54 557.71L1481.24 556.96L1487.95 556.22L1494.65 555.48L1501.35 554.74" fill="none" stroke="#00ff00" stroke-width="4.3" stroke-linejoin="round" stroke-linecap="round" clip-path="url(#ca)"/>
<path d="M150.69 852.85L172.69 852.85L161.69 871.9ZM196.38 827L218.38 827L207.38 846.05ZM245.89 804.39L267.89 804.39L256.89 823.44ZM291.58 784.3L313.58 784.3L302.58 803.35ZM337.28 766.22L359.28 766.22L348.28 785.27ZM382.97 749.79L404.97 749.79L393.97 768.84ZM432.48 734.72L454.48 734.72L443.48 753.78ZM478.17 720.82L500.17 720.82L489.17 739.87ZM523.87 707.91L545.87 707.91L534.87 726.96ZM573.37 695.86L595.37 695.86L584.37 714.92ZM619.07 684.57L641.07 684.57L630.07 703.62ZM664.77 673.94L686.77 673.94L675.77 692.99ZM714.27 663.9L736.27 663.9L725.27 682.95ZM759.97 654.39L781.97 654.39L770.97 673.44ZM805.66 645.35L827.66 645.35L816.66 664.41ZM855.17 636.75L877.17 636.75L866.17 655.8ZM900.86 628.54L922.86 628.54L911.86 647.59ZM946.56 620.68L968.56 620.68L957.56 639.73ZM996.06 613.15L1018.06 613.15L1007.06 632.21ZM1041.76 605.93L1063.76 605.93L1052.76 624.98ZM1087.45 598.98L1109.45 598.98L1098.45 618.03ZM1136.96 592.29L1158.96 592.29L1147.96 611.34ZM1182.65 585.83L1204.65 585.83L1193.65 604.89ZM1228.35 579.6L1250.35 579.6L1239.35 598.66ZM1277.85 573.58L1299.85 573.58L1288.85 592.63ZM1323.55 567.75L1345.55 567.75L1334.55 586.81ZM1369.25 562.11L1391.25 562.11L1380.25 581.16ZM1418.75 556.63L1440.75 556.63L1429.75 575.68ZM1464.45 551.32L1486.45 551.32L1475.45 570.37Z" fill="none" stroke="#00ff00" stroke-width="3.9" stroke-linejoin="miter" stroke-miterlimit="10" stroke-linecap="butt"/>
<path d="M303.41 1516.9V1509.9M303.41 1024.95V1031.95M445.93 1516.9V1509.9M445.93 1024.95V1031.95M588.44 1516.9V1509.9M588.44 1024.95V1031.95M160.9 1372.21H167.9M730.95 1372.21H723.95M160.9 1227.52H167.9M730.95 1227.52H723.95M160.9 1082.83H167.9M730.95 1082.83H723.95" stroke="#262626" stroke-width="3.9" fill="none"/>
<rect x="160.9" y="1024.95" width="570.05" height="491.95" fill="none" stroke="#262626" stroke-width="3.9" stroke-linejoin="miter"/>
<path d="M233 1073.35L239.58 1076.07L242.3 1082.65L239.58 1089.23L233 1091.95L226.42 1089.23L223.7 1082.65L226.42 1076.07ZM268.2 1073.35L274.78 1076.07L277.5 1082.65L274.78 1089.23L268.2 1091.95L261.62 1089.23L258.9 1082.65L261.62 1076.07ZM303.5 1073.35L310.08 1076.07L312.8 1082.65L310.08 1089.23L303.5 1091.95L296.92 1089.23L294.2 1082.65L296.92 1076.07ZM338.7 1073.35L345.28 1076.07L348 1082.65L345.28 1089.23L338.7 1091.95L332.12 1089.23L329.4 1082.65L332.12 1076.07ZM373.7 1073.35L380.28 1076.07L383 1082.65L380.28 1089.23L373.7 1091.95L367.12 1089.23L364.4 1082.65L367.12 1076.07ZM409 1076.9L415.58 1079.62L418.3 1086.2L415.58 1092.78L409 1095.5L402.42 1092.78L399.7 1086.2L402.42 1079.62ZM447.6 1087.4L454.18 1090.12L456.9 1096.7L454.18 1103.28L447.6 1106L441.02 1103.28L438.3 1096.7L441.02 1090.12ZM482.9 1108.5L489.48 1111.22L492.2 1117.8L489.48 1124.38L482.9 1127.1L476.32 1124.38L473.6 1117.8L476.32 1111.22ZM518 1157.6L524.58 1160.32L527.3 1166.9L524.58 1173.48L518 1176.2L511.42 1173.48L508.7 1166.9L511.42 1160.32ZM553.2 1221L559.78 1223.72L562.5 1230.3L559.78 1236.88L553.2 1239.6L546.62 1236.88L543.9 1230.3L546.62 1223.72ZM588.4 1291.2L594.98 1293.92L597.7 1300.5L594.98 1307.08L588.4 1309.8L581.82 1307.08L579.1 1300.5L581.82 1293.92ZM623.6 1354.5L630.18 1357.22L632.9 1363.8L630.18 1370.38L623.6 1373.1L617.02 1370.38L614.3 1363.8L617.02 1357.22ZM658.6 1400.4L665.18 1403.12L667.9 1409.7L665.18 1416.28L658.6 1419L652.02 1416.28L649.3 1409.7L652.02 1403.12ZM693.8 1421.2L700.38 1423.92L703.1 1430.5L700.38 1437.08L693.8 1439.8L687.22 1437.08L684.5 1430.5L687.22 1423.92Z" fill="none" stroke="#000" stroke-width="4" stroke-linejoin="miter"/>
<path d="M1039.78 1516.9V1509.9M1039.78 1024.95V1031.95M1177.89 1516.9V1509.9M1177.89 1024.95V1031.95M1316 1516.9V1509.9M1316 1024.95V1031.95M1454.11 1516.9V1509.9M1454.11 1024.95V1031.95M934.95 1401.12H941.95M1508.25 1401.12H1501.25M934.95 1250.65H941.95M1508.25 1250.65H1501.25M934.95 1100.18H941.95M1508.25 1100.18H1501.25" stroke="#262626" stroke-width="3.9" fill="none"/>
<rect x="934.95" y="1024.95" width="573.3" height="491.95" fill="none" stroke="#262626" stroke-width="3.9" stroke-linejoin="miter"/>
<path d="M1049.36 1390.5L1050.15 1389.85L1050.87 1389.12L1051.53 1388.34L1052.16 1387.53L1052.82 1386.76L1053.56 1386.04L1054.37 1385.4L1055.25 1384.83L1056.16 1384.28L1057.04 1383.7L1057.84 1383.04L1058.52 1382.28L1059.07 1381.4L1059.54 1380.44L1059.96 1379.44L1060.39 1378.46L1060.9 1377.54L1061.5 1376.7L1062.2 1375.96L1062.95 1375.26L1063.72 1374.58L1064.46 1373.87L1065.13 1373.1L1065.73 1372.27L1066.29 1371.39L1066.84 1370.52L1067.45 1369.69L1068.16 1368.95L1068.98 1368.32L1069.9 1367.77L1070.87 1367.28L1071.85 1366.79L1072.76 1366.24L1073.57 1365.6L1074.27 1364.86L1074.87 1364.02L1075.42 1363.14L1075.97 1362.26L1076.56 1361.42L1077.23 1360.65L1077.96 1359.93L1078.73 1359.25L1079.48 1358.55L1080.17 1357.8L1080.77 1356.96L1081.27 1356.04L1081.71 1355.06L1082.14 1354.06L1082.61 1353.11L1083.18 1352.24L1083.87 1351.49L1084.67 1350.84L1085.56 1350.27L1086.47 1349.73L1087.36 1349.15L1088.17 1348.52L1088.91 1347.8L1089.57 1347.02L1090.2 1346.22L1090.86 1345.43L1091.57 1344.71L1092.37 1344.05L1093.24 1343.46L1094.13 1342.9L1095.01 1342.31L1095.8 1341.66L1096.48 1340.89L1097.04 1340.02L1097.5 1339.06L1097.92 1338.06L1098.35 1337.06L1098.84 1336.13L1099.43 1335.29L1100.12 1334.53L1100.88 1333.85L1101.66 1333.18L1102.41 1332.48L1103.11 1331.73L1103.73 1330.91L1104.3 1330.05L1104.86 1329.19L1105.47 1328.36L1106.18 1327.62L1106.99 1326.98L1107.9 1326.43L1108.87 1325.94L1109.85 1325.45L1110.77 1324.9L1111.58 1324.27L1112.28 1323.52L1112.88 1322.69L1113.42 1321.8L1113.95 1320.9L1114.53 1320.04L1115.18 1319.25L1115.9 1318.53L1116.65 1317.83L1117.4 1317.14L1118.1 1316.39L1118.71 1315.57L1119.23 1314.65L1119.68 1313.68L1120.11 1312.69L1120.58 1311.74L1121.15 1310.88L1121.84 1310.12L1122.64 1309.48L1123.54 1308.91L1124.46 1308.38L1125.36 1307.82L1126.2 1307.19L1126.94 1306.49L1127.61 1305.72L1128.25 1304.92L1128.89 1304.13L1129.59 1303.39L1130.37 1302.71L1131.22 1302.11L1132.1 1301.53L1132.97 1300.94L1133.76 1300.28L1134.44 1299.53L1135 1298.66L1135.47 1297.7L1135.88 1296.69L1136.3 1295.69L1136.78 1294.75L1137.37 1293.9L1138.05 1293.14L1138.81 1292.45L1139.6 1291.79L1140.37 1291.11L1141.08 1290.38L1141.72 1289.59L1142.31 1288.74L1142.89 1287.88L1143.5 1287.06L1144.2 1286.32L1145 1285.67L1145.91 1285.12L1146.88 1284.62L1147.85 1284.13L1148.77 1283.59L1149.59 1282.96L1150.3 1282.22L1150.89 1281.38L1151.42 1280.49L1151.94 1279.58L1152.5 1278.7L1153.13 1277.9L1153.83 1277.15L1154.57 1276.46L1155.32 1275.76L1156.03 1275.02L1156.65 1274.21L1157.18 1273.31L1157.64 1272.35L1158.08 1271.37L1158.56 1270.42L1159.13 1269.56L1159.81 1268.8L1160.62 1268.16L1161.52 1267.6L1162.46 1267.08L1163.37 1266.53L1164.22 1265.93L1164.97 1265.24L1165.65 1264.48L1166.29 1263.68L1166.92 1262.88L1167.61 1262.12L1168.37 1261.44L1169.2 1260.81L1170.07 1260.23L1170.92 1259.63L1171.71 1258.98L1172.4 1258.22L1172.96 1257.36L1173.43 1256.4L1173.84 1255.39L1174.25 1254.39L1174.73 1253.44L1175.3 1252.58L1175.98 1251.82L1176.74 1251.14L1177.54 1250.49L1178.33 1249.83L1179.06 1249.13L1179.73 1248.35L1180.33 1247.52L1180.92 1246.68L1181.53 1245.86L1182.23 1245.12L1183.02 1244.47L1183.92 1243.91L1184.88 1243.41L1185.85 1242.92L1186.77 1242.39L1187.6 1241.77L1188.3 1241.03L1188.9 1240.2L1189.42 1239.29L1189.93 1238.38L1190.46 1237.49L1191.07 1236.67L1191.76 1235.91L1192.49 1235.21L1193.24 1234.52L1193.95 1233.79L1194.59 1232.99L1195.13 1232.11L1195.61 1231.17L1196.06 1230.2L1196.55 1229.26L1197.11 1228.4L1197.8 1227.66L1198.61 1227.02L1199.51 1226.47L1200.45 1225.96L1201.38 1225.43L1202.24 1224.85L1203.01 1224.18L1203.69 1223.43L1204.33 1222.63L1204.95 1221.83L1205.62 1221.07L1206.36 1220.37L1207.17 1219.74L1208.03 1219.15L1208.87 1218.55L1209.66 1217.9L1210.35 1217.16L1210.92 1216.3L1211.39 1215.35L1211.8 1214.35L1212.21 1213.35L1212.68 1212.4L1213.24 1211.54L1213.92 1210.79L1214.68 1210.12L1215.49 1209.49L1216.29 1208.85L1217.05 1208.17L1217.73 1207.43L1218.35 1206.63L1218.95 1205.8L1219.57 1205L1220.26 1204.26L1221.04 1203.61L1221.93 1203.06L1222.88 1202.56L1223.85 1202.09L1224.77 1201.57L1225.59 1200.96L1226.3 1200.24L1226.89 1199.42L1227.41 1198.52L1227.9 1197.6L1228.43 1196.71L1229.02 1195.88L1229.69 1195.13L1230.41 1194.43L1231.16 1193.75L1231.88 1193.05L1232.53 1192.28L1233.09 1191.43L1233.58 1190.51" fill="none" stroke="#b3b3b3" stroke-width="25" stroke-linecap="round" stroke-linejoin="round" clip-path="url(#cc)"/>
<path d="M1365.3 1079.55L1365.97 1079.17L1366.71 1078.92L1367.5 1078.77L1368.29 1078.64L1369.07 1078.48L1369.8 1078.24L1370.49 1077.91L1371.15 1077.52L1371.81 1077.12L1372.49 1076.77L1373.21 1076.51L1373.98 1076.38L1374.8 1076.33L1375.63 1076.33L1376.44 1076.29L1377.21 1076.16L1377.91 1075.88L1378.54 1075.45L1379.12 1074.9L1379.68 1074.3L1380.25 1073.71L1380.85 1073.2L1381.49 1072.8L1382.19 1072.51L1382.9 1072.29L1383.63 1072.07L1384.32 1071.8L1384.99 1071.44L1385.61 1070.99L1386.21 1070.49L1386.82 1069.99L1387.45 1069.57L1388.14 1069.28L1388.88 1069.13L1389.68 1069.13L1390.51 1069.21L1391.34 1069.29L1392.14 1069.32L1392.9 1069.22L1393.6 1068.99L1394.26 1068.65L1394.9 1068.25L1395.54 1067.87L1396.2 1067.54L1396.9 1067.31L1397.63 1067.15L1398.37 1067.03L1399.09 1066.89L1399.79 1066.65L1400.44 1066.29L1401.04 1065.8L1401.61 1065.22L1402.17 1064.61L1402.75 1064.05L1403.38 1063.62L1404.06 1063.34L1404.78 1063.2L1405.55 1063.17L1406.32 1063.17L1407.08 1063.15L1407.81 1063.04L1408.51 1062.83L1409.18 1062.55L1409.85 1062.24L1410.53 1061.98L1411.24 1061.81L1411.98 1061.75L1412.76 1061.8L1413.55 1061.89L1414.33 1061.95L1415.07 1061.91L1415.77 1061.73L1416.42 1061.38L1417.03 1060.91L1417.62 1060.37L1418.21 1059.85L1418.83 1059.39L1419.48 1059.06L1420.17 1058.84L1420.88 1058.7L1421.6 1058.58L1422.3 1058.42L1422.98 1058.16L1423.63 1057.82L1424.26 1057.41L1424.89 1057L1425.54 1056.65L1426.22 1056.43L1426.95 1056.37L1427.72 1056.45L1428.52 1056.61L1429.31 1056.79L1430.09 1056.91L1430.83 1056.9L1431.53 1056.75L1432.2 1056.48L1432.85 1056.14L1433.49 1055.8L1434.16 1055.52L1434.85 1055.33L1435.56 1055.22L1436.28 1055.16L1437 1055.08L1437.69 1054.92L1438.36 1054.64L1438.98 1054.22L1439.59 1053.7L1440.18 1053.15L1440.79 1052.65L1441.43 1052.27L1442.11 1052.05L1442.83 1051.98L1443.58 1052.03L1444.33 1052.12L1445.08 1052.18L1445.81 1052.16L1446.51 1052.03L1447.19 1051.82L1447.87 1051.58L1448.55 1051.36L1449.25 1051.23L1449.97 1051.22L1450.72 1051.3L1451.48 1051.44L1452.24 1051.56L1452.97 1051.58L1453.67 1051.45L1454.33 1051.16L1454.96 1050.73L1455.57 1050.23L1456.18 1049.74L1456.81 1049.31L1457.47 1049.01L1458.16 1048.84L1458.86 1048.75L1459.58 1048.69L1460.28 1048.59L1460.97 1048.42L1461.63 1048.14L1462.28 1047.8L1462.93 1047.45L1463.59 1047.15L1464.27 1046.98L1464.99 1046.96L1465.74 1047.08L1466.51 1047.3L1467.29 1047.53L1468.04 1047.71L1468.78 1047.76L1469.48 1047.66L1470.15 1047.43L1470.81 1047.13L1471.46 1046.81L1472.12 1046.54L1472.81 1046.36L1473.51 1046.27L1474.22 1046.24L1474.93 1046.2L1475.63 1046.09L1476.3 1045.85L1476.94 1045.48L1477.57 1045.02L1478.18 1044.51L1478.81 1044.05L1479.46 1043.7L1480.14 1043.52L1480.85 1043.49L1481.59 1043.58L1482.34 1043.73L1483.08 1043.85L1483.8 1043.89L1484.51 1043.83L1485.19 1043.67L1485.87 1043.46L1486.55 1043.28L1487.24 1043.17L1487.96 1043.17L1488.69 1043.27L1489.44 1043.42L1490.18 1043.57L1490.9 1043.62L1491.6 1043.53L1492.27 1043.27L1492.91 1042.88" fill="none" stroke="#b3b3b3" stroke-width="25" stroke-linecap="round" stroke-linejoin="round" clip-path="url(#cc)"/>
<path d="M1337.53 1105.8L1314.84 1118.9L1314.84 1092.7ZM1337.53 1105.8L1314.84 1118.9L1314.84 1092.7ZM1341.33 1105.8L1318.64 1118.9L1318.64 1092.7ZM1341.33 1105.8L1318.64 1118.9L1318.64 1092.7ZM1341.33 1105.8L1318.64 1118.9L1318.64 1092.7ZM1341.33 1102L1318.64 1115.1L1318.64 1088.9ZM1341.33 1102L1318.64 1115.1L1318.64 1088.9ZM1345.13 1102L1322.44 1115.1L1322.44 1088.9ZM1345.13 1102L1322.44 1115.1L1322.44 1088.9ZM1345.13 1102L1322.44 1115.1L1322.44 1088.9ZM1345.13 1102L1322.44 1115.1L1322.44 1088.9ZM1348.93 1102L1326.24 1115.1L1326.24 1088.9ZM1348.93 1098.2L1326.24 1111.3L1326.24 1085.1ZM1348.93 1098.2L1326.24 1111.3L1326.24 1085.1ZM1348.93 1098.2L1326.24 1111.3L1326.24 1085.1ZM1348.93 1098.2L1326.24 1111.3L1326.24 1085.1ZM1352.73 1098.2L1330.04 1111.3L1330.04 1085.1ZM1352.73 1098.2L1330.04 1111.3L1330.04 1085.1ZM1352.73 1098.2L1330.04 1111.3L1330.04 1085.1ZM1352.73 1094.4L1330.04 1107.5L1330.04 1081.3ZM1352.73 1094.4L1330.04 1107.5L1330.04 1081.3ZM1356.53 1094.4L1333.84 1107.5L1333.84 1081.3ZM1356.53 1094.4L1333.84 1107.5L1333.84 1081.3ZM1356.53 1094.4L1333.84 1107.5L1333.84 1081.3ZM1356.53 1094.4L1333.84 1107.5L1333.84 1081.3ZM1360.33 1094.4L1337.64 1107.5L1337.64 1081.3ZM1360.33 1090.6L1337.64 1103.7L1337.64 1077.5ZM1360.33 1090.6L1337.64 1103.7L1337.64 1077.5ZM1360.33 1090.6L1337.64 1103.7L1337.64 1077.5ZM1360.33 1090.6L1337.64 1103.7L1337.64 1077.5ZM1364.13 1090.6L1341.44 1103.7L1341.44 1077.5ZM1364.13 1090.6L1341.44 1103.7L1341.44 1077.5ZM1364.13 1090.6L1341.44 1103.7L1341.44 1077.5ZM1364.13 1090.6L1341.44 1103.7L1341.44 1077.5ZM1367.93 1086.8L1345.24 1099.9L1345.24 1073.7ZM1367.93 1086.8L1345.24 1099.9L1345.24 1073.7ZM1367.93 1086.8L1345.24 1099.9L1345.24 1073.7ZM1367.93 1086.8L1345.24 1099.9L1345.24 1073.7ZM1367.93 1086.8L1345.24 1099.9L1345.24 1073.7ZM1371.73 1086.8L1349.04 1099.9L1349.04 1073.7ZM1371.73 1086.8L1349.04 1099.9L1349.04 1073.7ZM1371.73 1086.8L1349.04 1099.9L1349.04 1073.7ZM1371.73 1083L1349.04 1096.1L1349.04 1069.9ZM1375.53 1083L1352.84 1096.1L1352.84 1069.9ZM1375.53 1083L1352.84 1096.1L1352.84 1069.9ZM1375.53 1083L1352.84 1096.1L1352.84 1069.9ZM1375.56 1083.11L1352.87 1096.21L1352.87 1070.01Z" fill="#00ff00"/>
<path d="M1278.9 1126.9L1297.5 1126.9L1297.5 1145.5L1278.9 1145.5ZM1278.9 1126.9L1297.5 1126.9L1297.5 1145.5L1278.9 1145.5ZM1278.9 1126.9L1297.5 1126.9L1297.5 1145.5L1278.9 1145.5ZM1282.7 1123.1L1301.3 1123.1L1301.3 1141.7L1282.7 1141.7ZM1282.7 1123.1L1301.3 1123.1L1301.3 1141.7L1282.7 1141.7ZM1282.7 1123.1L1301.3 1123.1L1301.3 1141.7L1282.7 1141.7ZM1282.7 1123.1L1301.3 1123.1L1301.3 1141.7L1282.7 1141.7ZM1286.5 1123.1L1305.1 1123.1L1305.1 1141.7L1286.5 1141.7ZM1286.5 1119.3L1305.1 1119.3L1305.1 1137.9L1286.5 1137.9ZM1286.5 1119.3L1305.1 1119.3L1305.1 1137.9L1286.5 1137.9ZM1286.5 1119.3L1305.1 1119.3L1305.1 1137.9L1286.5 1137.9ZM1286.5 1119.3L1305.1 1119.3L1305.1 1137.9L1286.5 1137.9ZM1290.3 1119.3L1308.9 1119.3L1308.9 1137.9L1290.3 1137.9ZM1290.3 1115.5L1308.9 1115.5L1308.9 1134.1L1290.3 1134.1ZM1290.3 1115.5L1308.9 1115.5L1308.9 1134.1L1290.3 1134.1ZM1290.3 1115.5L1308.9 1115.5L1308.9 1134.1L1290.3 1134.1ZM1294.1 1115.5L1312.7 1115.5L1312.7 1134.1L1294.1 1134.1ZM1294.1 1115.5L1312.7 1115.5L1312.7 1134.1L1294.1 1134.1ZM1294.1 1111.7L1312.7 1111.7L1312.7 1130.3L1294.1 1130.3ZM1294.1 1111.7L1312.7 1111.7L1312.7 1130.3L1294.1 1130.3ZM1294.1 1111.7L1312.7 1111.7L1312.7 1130.3L1294.1 1130.3ZM1297.9 1111.7L1316.5 1111.7L1316.5 1130.3L1297.9 1130.3ZM1297.9 1111.7L1316.5 1111.7L1316.5 1130.3L1297.9 1130.3ZM1297.9 1107.9L1316.5 1107.9L1316.5 1126.5L1297.9 1126.5ZM1297.9 1107.9L1316.5 1107.9L1316.5 1126.5L1297.9 1126.5ZM1297.9 1107.9L1316.5 1107.9L1316.5 1126.5L1297.9 1126.5ZM1301.7 1107.9L1320.3 1107.9L1320.3 1126.5L1301.7 1126.5ZM1301.7 1107.9L1320.3 1107.9L1320.3 1126.5L1301.7 1126.5ZM1301.7 1107.9L1320.3 1107.9L1320.3 1126.5L1301.7 1126.5ZM1301.7 1104.1L1320.3 1104.1L1320.3 1122.7L1301.7 1122.7ZM1305.5 1104.1L1324.1 1104.1L1324.1 1122.7L1305.5 1122.7ZM1305.5 1104.1L1324.1 1104.1L1324.1 1122.7L1305.5 1122.7ZM1305.5 1104.1L1324.1 1104.1L1324.1 1122.7L1305.5 1122.7ZM1305.5 1104.1L1324.1 1104.1L1324.1 1122.7L1305.5 1122.7ZM1305.5 1104.1L1324.1 1104.1L1324.1 1122.7L1305.5 1122.7ZM1309.3 1100.3L1327.9 1100.3L1327.9 1118.9L1309.3 1118.9ZM1309.3 1100.3L1327.9 1100.3L1327.9 1118.9L1309.3 1118.9ZM1309.3 1100.3L1327.9 1100.3L1327.9 1118.9L1309.3 1118.9ZM1309.3 1100.3L1327.9 1100.3L1327.9 1118.9L1309.3 1118.9ZM1313.1 1100.3L1331.7 1100.3L1331.7 1118.9L1313.1 1118.9ZM1313.1 1100.3L1331.7 1100.3L1331.7 1118.9L1313.1 1118.9ZM1313.1 1096.5L1331.7 1096.5L1331.7 1115.1L1313.1 1115.1ZM1313.1 1096.5L1331.7 1096.5L1331.7 1115.1L1313.1 1115.1ZM1313.1 1096.5L1331.7 1096.5L1331.7 1115.1L1313.1 1115.1ZM1316.9 1096.5L1335.5 1096.5L1335.5 1115.1L1316.9 1115.1ZM1316.9 1096.5L1335.5 1096.5L1335.5 1115.1L1316.9 1115.1ZM1316.9 1096.5L1335.5 1096.5L1335.5 1115.1L1316.9 1115.1ZM1317.63 1094.62L1336.23 1094.62L1336.23 1113.22L1317.63 1113.22Z" fill="#ff00ff"/>
<path d="M1257.8 1155.4L1265.72 1158.68L1269 1166.6L1265.72 1174.52L1257.8 1177.8L1249.88 1174.52L1246.6 1166.6L1249.88 1158.68ZM1257.8 1155.4L1265.72 1158.68L1269 1166.6L1265.72 1174.52L1257.8 1177.8L1249.88 1174.52L1246.6 1166.6L1249.88 1158.68ZM1257.8 1155.4L1265.72 1158.68L1269 1166.6L1265.72 1174.52L1257.8 1177.8L1249.88 1174.52L1246.6 1166.6L1249.88 1158.68ZM1257.8 1151.6L1265.72 1154.88L1269 1162.8L1265.72 1170.72L1257.8 1174L1249.88 1170.72L1246.6 1162.8L1249.88 1154.88ZM1261.6 1151.6L1269.52 1154.88L1272.8 1162.8L1269.52 1170.72L1261.6 1174L1253.68 1170.72L1250.4 1162.8L1253.68 1154.88ZM1261.6 1151.6L1269.52 1154.88L1272.8 1162.8L1269.52 1170.72L1261.6 1174L1253.68 1170.72L1250.4 1162.8L1253.68 1154.88ZM1261.6 1151.6L1269.52 1154.88L1272.8 1162.8L1269.52 1170.72L1261.6 1174L1253.68 1170.72L1250.4 1162.8L1253.68 1154.88ZM1261.6 1151.6L1269.52 1154.88L1272.8 1162.8L1269.52 1170.72L1261.6 1174L1253.68 1170.72L1250.4 1162.8L1253.68 1154.88ZM1261.6 1147.8L1269.52 1151.08L1272.8 1159L1269.52 1166.92L1261.6 1170.2L1253.68 1166.92L1250.4 1159L1253.68 1151.08ZM1265.4 1147.8L1273.32 1151.08L1276.6 1159L1273.32 1166.92L1265.4 1170.2L1257.48 1166.92L1254.2 1159L1257.48 1151.08ZM1265.4 1147.8L1273.32 1151.08L1276.6 1159L1273.32 1166.92L1265.4 1170.2L1257.48 1166.92L1254.2 1159L1257.48 1151.08ZM1265.4 1147.8L1273.32 1151.08L1276.6 1159L1273.32 1166.92L1265.4 1170.2L1257.48 1166.92L1254.2 1159L1257.48 1151.08ZM1265.4 1144L1273.32 1147.28L1276.6 1155.2L1273.32 1163.12L1265.4 1166.4L1257.48 1163.12L1254.2 1155.2L1257.48 1147.28ZM1269.2 1144L1277.12 1147.28L1280.4 1155.2L1277.12 1163.12L1269.2 1166.4L1261.28 1163.12L1258 1155.2L1261.28 1147.28ZM1269.2 1144L1277.12 1147.28L1280.4 1155.2L1277.12 1163.12L1269.2 1166.4L1261.28 1163.12L1258 1155.2L1261.28 1147.28ZM1269.2 1144L1277.12 1147.28L1280.4 1155.2L1277.12 1163.12L1269.2 1166.4L1261.28 1163.12L1258 1155.2L1261.28 1147.28ZM1269.2 1144L1277.12 1147.28L1280.4 1155.2L1277.12 1163.12L1269.2 1166.4L1261.28 1163.12L1258 1155.2L1261.28 1147.28ZM1269.2 1140.2L1277.12 1143.48L1280.4 1151.4L1277.12 1159.32L1269.2 1162.6L1261.28 1159.32L1258 1151.4L1261.28 1143.48ZM1273 1140.2L1280.92 1143.48L1284.2 1151.4L1280.92 1159.32L1273 1162.6L1265.08 1159.32L1261.8 1151.4L1265.08 1143.48ZM1273 1140.2L1280.92 1143.48L1284.2 1151.4L1280.92 1159.32L1273 1162.6L1265.08 1159.32L1261.8 1151.4L1265.08 1143.48ZM1273 1140.2L1280.92 1143.48L1284.2 1151.4L1280.92 1159.32L1273 1162.6L1265.08 1159.32L1261.8 1151.4L1265.08 1143.48ZM1273 1140.2L1280.92 1143.48L1284.2 1151.4L1280.92 1159.32L1273 1162.6L1265.08 1159.32L1261.8 1151.4L1265.08 1143.48ZM1273 1136.4L1280.92 1139.68L1284.2 1147.6L1280.92 1155.52L1273 1158.8L1265.08 1155.52L1261.8 1147.6L1265.08 1139.68ZM1276.8 1136.4L1284.72 1139.68L1288 1147.6L1284.72 1155.52L1276.8 1158.8L1268.88 1155.52L1265.6 1147.6L1268.88 1139.68ZM1276.8 1136.4L1284.72 1139.68L1288 1147.6L1284.72 1155.52L1276.8 1158.8L1268.88 1155.52L1265.6 1147.6L1268.88 1139.68ZM1276.8 1136.4L1284.72 1139.68L1288 1147.6L1284.72 1155.52L1276.8 1158.8L1268.88 1155.52L1265.6 1147.6L1268.88 1139.68ZM1276.8 1132.6L1284.72 1135.88L1288 1143.8L1284.72 1151.72L1276.8 1155L1268.88 1151.72L1265.6 1143.8L1268.88 1135.88ZM1280.6 1132.6L1288.52 1135.88L1291.8 1143.8L1288.52 1151.72L1280.6 1155L1272.68 1151.72L1269.4 1143.8L1272.68 1135.88ZM1280.6 1132.6L1288.52 1135.88L1291.8 1143.8L1288.52 1151.72L1280.6 1155L1272.68 1151.72L1269.4 1143.8L1272.68 1135.88ZM1280.6 1132.6L1288.52 1135.88L1291.8 1143.8L1288.52 1151.72L1280.6 1155L1272.68 1151.72L1269.4 1143.8L1272.68 1135.88ZM1280.6 1132.6L1288.52 1135.88L1291.8 1143.8L1288.52 1151.72L1280.6 1155L1272.68 1151.72L1269.4 1143.8L1272.68 1135.88ZM1280.6 1128.8L1288.52 1132.08L1291.8 1140L1288.52 1147.92L1280.6 1151.2L1272.68 1147.92L1269.4 1140L1272.68 1132.08ZM1284.4 1128.8L1292.32 1132.08L1295.6 1140L1292.32 1147.92L1284.4 1151.2L1276.48 1147.92L1273.2 1140L1276.48 1132.08ZM1284.4 1128.8L1292.32 1132.08L1295.6 1140L1292.32 1147.92L1284.4 1151.2L1276.48 1147.92L1273.2 1140L1276.48 1132.08ZM1284.4 1128.8L1292.32 1132.08L1295.6 1140L1292.32 1147.92L1284.4 1151.2L1276.48 1147.92L1273.2 1140L1276.48 1132.08ZM1284.4 1128.8L1292.32 1132.08L1295.6 1140L1292.32 1147.92L1284.4 1151.2L1276.48 1147.92L1273.2 1140L1276.48 1132.08ZM1288.2 1125L1296.12 1128.28L1299.4 1136.2L1296.12 1144.12L1288.2 1147.4L1280.28 1144.12L1277 1136.2L1280.28 1128.28ZM1288.2 1125L1296.12 1128.28L1299.4 1136.2L1296.12 1144.12L1288.2 1147.4L1280.28 1144.12L1277 1136.2L1280.28 1128.28ZM1288.2 1125L1296.12 1128.28L1299.4 1136.2L1296.12 1144.12L1288.2 1147.4L1280.28 1144.12L1277 1136.2L1280.28 1128.28ZM1288.2 1125L1296.12 1128.28L1299.4 1136.2L1296.12 1144.12L1288.2 1147.4L1280.28 1144.12L1277 1136.2L1280.28 1128.28ZM1288.2 1125L1296.12 1128.28L1299.4 1136.2L1296.12 1144.12L1288.2 1147.4L1280.28 1144.12L1277 1136.2L1280.28 1128.28ZM1292 1121.2L1299.92 1124.48L1303.2 1132.4L1299.92 1140.32L1292 1143.6L1284.08 1140.32L1280.8 1132.4L1284.08 1124.48ZM1292 1121.2L1299.92 1124.48L1303.2 1132.4L1299.92 1140.32L1292 1143.6L1284.08 1140.32L1280.8 1132.4L1284.08 1124.48ZM1292 1121.2L1299.92 1124.48L1303.2 1132.4L1299.92 1140.32L1292 1143.6L1284.08 1140.32L1280.8 1132.4L1284.08 1124.48ZM1292 1121.2L1299.92 1124.48L1303.2 1132.4L1299.92 1140.32L1292 1143.6L1284.08 1140.32L1280.8 1132.4L1284.08 1124.48ZM1293.36 1120.15L1301.28 1123.43L1304.56 1131.35L1301.28 1139.27L1293.36 1142.55L1285.44 1139.27L1282.16 1131.35L1285.44 1123.43Z" fill="#0000ff"/>
<path d="M1231.2 1178.35L1242.55 1193.2L1231.2 1208.05L1219.85 1193.2ZM1235 1178.35L1246.35 1193.2L1235 1208.05L1223.65 1193.2ZM1235 1174.55L1246.35 1189.4L1235 1204.25L1223.65 1189.4ZM1235 1174.55L1246.35 1189.4L1235 1204.25L1223.65 1189.4ZM1235 1174.55L1246.35 1189.4L1235 1204.25L1223.65 1189.4ZM1235 1174.55L1246.35 1189.4L1235 1204.25L1223.65 1189.4ZM1238.8 1170.75L1250.15 1185.6L1238.8 1200.45L1227.45 1185.6ZM1238.8 1170.75L1250.15 1185.6L1238.8 1200.45L1227.45 1185.6ZM1238.8 1170.75L1250.15 1185.6L1238.8 1200.45L1227.45 1185.6ZM1238.8 1170.75L1250.15 1185.6L1238.8 1200.45L1227.45 1185.6ZM1242.6 1166.95L1253.95 1181.8L1242.6 1196.65L1231.25 1181.8ZM1242.6 1166.95L1253.95 1181.8L1242.6 1196.65L1231.25 1181.8ZM1242.6 1166.95L1253.95 1181.8L1242.6 1196.65L1231.25 1181.8ZM1242.6 1166.95L1253.95 1181.8L1242.6 1196.65L1231.25 1181.8ZM1242.6 1166.95L1253.95 1181.8L1242.6 1196.65L1231.25 1181.8ZM1246.4 1163.15L1257.75 1178L1246.4 1192.85L1235.05 1178ZM1246.4 1163.15L1257.75 1178L1246.4 1192.85L1235.05 1178ZM1246.4 1163.15L1257.75 1178L1246.4 1192.85L1235.05 1178ZM1246.4 1163.15L1257.75 1178L1246.4 1192.85L1235.05 1178ZM1246.4 1159.35L1257.75 1174.2L1246.4 1189.05L1235.05 1174.2ZM1250.2 1159.35L1261.55 1174.2L1250.2 1189.05L1238.85 1174.2ZM1250.2 1159.35L1261.55 1174.2L1250.2 1189.05L1238.85 1174.2ZM1250.2 1159.35L1261.55 1174.2L1250.2 1189.05L1238.85 1174.2ZM1250.2 1155.55L1261.55 1170.4L1250.2 1185.25L1238.85 1170.4ZM1254 1155.55L1265.35 1170.4L1254 1185.25L1242.65 1170.4ZM1254 1155.55L1265.35 1170.4L1254 1185.25L1242.65 1170.4ZM1254 1155.55L1265.35 1170.4L1254 1185.25L1242.65 1170.4ZM1254 1155.55L1265.35 1170.4L1254 1185.25L1242.65 1170.4ZM1254 1151.75L1265.35 1166.6L1254 1181.45L1242.65 1166.6ZM1257.8 1151.75L1269.15 1166.6L1257.8 1181.45L1246.45 1166.6ZM1257.8 1151.75L1269.15 1166.6L1257.8 1181.45L1246.45 1166.6ZM1257.8 1151.75L1269.15 1166.6L1257.8 1181.45L1246.45 1166.6ZM1257.8 1147.95L1269.15 1162.8L1257.8 1177.65L1246.45 1162.8ZM1259.5 1149.22L1270.85 1164.07L1259.5 1178.92L1248.15 1164.07Z" fill="#ff0000"/>
<circle cx="981.39" cy="1465.82" r="11" fill="#b3b3b3"/>
<circle cx="1002.8" cy="1442.49" r="10" fill="#b3b3b3"/>
<path d="M941.7 1494.25L949.11 1494.25L951.4 1487.2L953.69 1494.25L961.1 1494.25L955.1 1498.61L957.39 1505.65L951.4 1501.3L945.4 1505.65L947.69 1498.61L941.7 1494.25M962.48 1471.6L969.89 1471.6L972.18 1464.56L974.47 1471.6L981.88 1471.6L975.89 1475.96L978.18 1483.01L972.18 1478.65L966.19 1483.01L968.48 1475.96L962.48 1471.6M974.64 1458.36L982.05 1458.36L984.34 1451.31L986.63 1458.36L994.04 1458.36L988.05 1462.71L990.34 1469.76L984.34 1465.4L978.35 1469.76L980.64 1462.71L974.64 1458.36M983.27 1448.96L990.68 1448.96L992.97 1441.91L995.26 1448.96L1002.67 1448.96L996.68 1453.31L998.97 1460.36L992.97 1456L986.98 1460.36L989.27 1453.31L983.27 1448.96M989.96 1441.67L997.37 1441.67L999.66 1434.62L1001.95 1441.67L1009.36 1441.67L1003.37 1446.02L1005.66 1453.07L999.66 1448.71L993.67 1453.07L995.96 1446.02L989.96 1441.67M995.43 1435.71L1002.84 1435.71L1005.13 1428.66L1007.42 1435.71L1014.83 1435.71L1008.84 1440.06L1011.13 1447.11L1005.13 1442.76L999.14 1447.11L1001.43 1440.06L995.43 1435.71M1000.05 1430.67L1007.46 1430.67L1009.76 1423.62L1012.05 1430.67L1019.46 1430.67L1013.46 1435.03L1015.75 1442.08L1009.76 1437.72L1003.76 1442.08L1006.05 1435.03L1000.05 1430.67M1004.06 1426.31L1011.47 1426.31L1013.76 1419.26L1016.05 1426.31L1023.46 1426.31L1017.47 1430.66L1019.76 1437.71L1013.76 1433.36L1007.76 1437.71L1010.05 1430.66L1004.06 1426.31M1007.59 1422.46L1015 1422.46L1017.29 1415.41L1019.58 1422.46L1026.99 1422.46L1021 1426.82L1023.29 1433.86L1017.29 1429.51L1011.3 1433.86L1013.59 1426.82L1007.59 1422.46M1010.75 1419.02L1018.16 1419.02L1020.45 1411.97L1022.74 1419.02L1030.15 1419.02L1024.16 1423.37L1026.45 1430.42L1020.45 1426.07L1014.46 1430.42L1016.75 1423.37L1010.75 1419.02M1013.61 1415.9L1021.02 1415.9L1023.31 1408.86L1025.6 1415.9L1033.01 1415.9L1027.02 1420.26L1029.31 1427.31L1023.31 1422.95L1017.31 1427.31L1019.6 1420.26L1013.61 1415.9M1016.22 1413.06L1023.63 1413.06L1025.92 1406.01L1028.21 1413.06L1035.62 1413.06L1029.63 1417.42L1031.92 1424.47L1025.92 1420.11L1019.92 1424.47L1022.21 1417.42L1016.22 1413.06M1018.62 1410.45L1026.03 1410.45L1028.32 1403.4L1030.61 1410.45L1038.02 1410.45L1032.03 1414.8L1034.32 1421.85L1028.32 1417.49L1022.32 1421.85L1024.61 1414.8L1018.62 1410.45M1020.84 1408.02L1028.25 1408.02L1030.54 1400.98L1032.83 1408.02L1040.24 1408.02L1034.25 1412.38L1036.54 1419.43L1030.54 1415.07L1024.55 1419.43L1026.84 1412.38L1020.84 1408.02M1022.91 1405.77L1030.32 1405.77L1032.61 1398.72L1034.9 1405.77L1042.31 1405.77L1036.32 1410.13L1038.61 1417.17L1032.61 1412.82L1026.62 1417.17L1028.91 1410.13L1022.91 1405.77M1024.85 1403.66L1032.26 1403.66L1034.55 1396.61L1036.84 1403.66L1044.25 1403.66L1038.25 1408.02L1040.54 1415.07L1034.55 1410.71L1028.55 1415.07L1030.84 1408.02L1024.85 1403.66M1026.66 1401.68L1034.08 1401.68L1036.37 1394.63L1038.66 1401.68L1046.07 1401.68L1040.07 1406.04L1042.36 1413.09L1036.37 1408.73L1030.37 1413.09L1032.66 1406.04L1026.66 1401.68M1028.38 1399.81L1035.79 1399.81L1038.08 1392.77L1040.37 1399.81L1047.78 1399.81L1041.79 1404.17L1044.08 1411.22L1038.08 1406.86L1032.08 1411.22L1034.37 1404.17L1028.38 1399.81M1030 1398.05L1037.41 1398.05L1039.7 1391L1041.99 1398.05L1049.4 1398.05L1043.41 1402.4L1045.7 1409.45L1039.7 1405.1L1033.71 1409.45L1036 1402.4L1030 1398.05M1031.54 1396.37L1038.95 1396.37L1041.24 1389.32L1043.53 1396.37L1050.94 1396.37L1044.95 1400.73L1047.24 1407.78L1041.24 1403.42L1035.24 1407.78L1037.53 1400.73L1031.54 1396.37M1033 1394.78L1040.41 1394.78L1042.7 1387.73L1044.99 1394.78L1052.4 1394.78L1046.41 1399.13L1048.7 1406.18L1042.7 1401.83L1036.71 1406.18L1039 1399.13L1033 1394.78M1034.4 1393.26L1041.81 1393.26L1044.1 1386.21L1046.39 1393.26L1053.8 1393.26L1047.8 1397.61L1050.09 1404.66L1044.1 1400.31L1038.1 1404.66L1040.39 1397.61L1034.4 1393.26M1035.73 1391.81L1043.14 1391.81L1045.43 1384.76L1047.72 1391.81L1055.13 1391.81L1049.14 1396.16L1051.43 1403.21L1045.43 1398.85L1039.44 1403.21L1041.73 1396.16L1035.73 1391.81M1037.01 1390.41L1044.42 1390.41L1046.71 1383.37L1049 1390.41L1056.41 1390.41L1050.41 1394.77L1052.7 1401.82L1046.71 1397.46L1040.71 1401.82L1043 1394.77L1037.01 1390.41M1038.23 1389.08L1045.64 1389.08L1047.93 1382.03L1050.22 1389.08L1057.63 1389.08L1051.64 1393.44L1053.93 1400.49L1047.93 1396.13L1041.94 1400.49L1044.23 1393.44L1038.23 1389.08M1039.41 1387.8L1046.82 1387.8L1049.11 1380.75L1051.4 1387.8L1058.81 1387.8L1052.81 1392.16L1055.1 1399.2L1049.11 1394.85L1043.11 1399.2L1045.4 1392.16L1039.41 1387.8M1040.54 1386.57L1047.95 1386.57L1050.24 1379.52L1052.53 1386.57L1059.94 1386.57L1053.95 1390.92L1056.24 1397.97L1050.24 1393.62L1044.24 1397.97L1046.53 1390.92L1040.54 1386.57M1041.63 1385.38L1049.04 1385.38L1051.33 1378.33L1053.62 1385.38L1061.03 1385.38L1055.04 1389.73L1057.33 1396.78L1051.33 1392.43L1045.34 1396.78L1047.62 1389.73L1041.63 1385.38" fill="#000" stroke="#000" stroke-width="3" stroke-linejoin="miter" stroke-miterlimit="10"/>
<path d="M934.95 1515.32L936.33 1513.82L937.71 1512.31L939.09 1510.81L940.47 1509.3L941.86 1507.8L943.24 1506.29L944.62 1504.79L946 1503.28L947.38 1501.78L948.76 1500.27L950.14 1498.77L951.52 1497.26L952.9 1495.76L954.29 1494.25L955.67 1492.75L957.05 1491.25L958.43 1489.74L959.81 1488.24L961.19 1486.73L962.57 1485.23L963.95 1483.72L965.33 1482.22L966.72 1480.71L968.1 1479.21L969.48 1477.7L970.86 1476.2L972.24 1474.69L973.62 1473.19L975 1471.69L976.38 1470.18L977.76 1468.68L979.15 1467.17L980.53 1465.67L981.91 1464.16L983.29 1462.66L984.67 1461.15L986.05 1459.65L987.43 1458.14L988.81 1456.64L990.19 1455.13L991.58 1453.63L992.96 1452.12L994.34 1450.62L995.72 1449.12L997.1 1447.61L998.48 1446.11L999.86 1444.6L1001.24 1443.1L1002.62 1441.59L1004.01 1440.09L1005.39 1438.58L1006.77 1437.08L1008.15 1435.57L1009.53 1434.07L1010.91 1432.56L1012.29 1431.06L1013.67 1429.55L1015.05 1428.05L1016.44 1426.55L1017.82 1425.04L1019.2 1423.54L1020.58 1422.03L1021.96 1420.53L1023.34 1419.02L1024.72 1417.52L1026.1 1416.01L1027.48 1414.51L1028.87 1413L1030.25 1411.5L1031.63 1409.99L1033.01 1408.49L1034.39 1406.99L1035.77 1405.48L1037.15 1403.98L1038.53 1402.47L1039.91 1400.97L1041.3 1399.46L1042.68 1397.96L1044.06 1396.45L1045.44 1394.95L1046.82 1393.44L1048.2 1391.94L1049.58 1390.44L1050.96 1388.93L1052.34 1387.43L1053.73 1385.92L1055.11 1384.42L1056.49 1382.91L1057.87 1381.41L1059.25 1379.9L1060.63 1378.4L1062.01 1376.89L1063.39 1375.39L1064.77 1373.89L1066.16 1372.38L1067.54 1370.88L1068.92 1369.37L1070.3 1367.87L1071.68 1366.36L1073.06 1364.86L1074.44 1363.35L1075.82 1361.85L1077.2 1360.35L1078.59 1358.84L1079.97 1357.34L1081.35 1355.83L1082.73 1354.33L1084.11 1352.82L1085.49 1351.32L1086.87 1349.81L1088.25 1348.31L1089.63 1346.81L1091.02 1345.3L1092.4 1343.8L1093.78 1342.29L1095.16 1340.79L1096.54 1339.29L1097.92 1337.78L1099.3 1336.28L1100.68 1334.77L1102.06 1333.27L1103.45 1331.76L1104.83 1330.26L1106.21 1328.76L1107.59 1327.25L1108.97 1325.75L1110.35 1324.24L1111.73 1322.74L1113.11 1321.24L1114.49 1319.73L1115.88 1318.23L1117.26 1316.73L1118.64 1315.22L1120.02 1313.72L1121.4 1312.22L1122.78 1310.71L1124.16 1309.21L1125.54 1307.7L1126.92 1306.2L1128.31 1304.7L1129.69 1303.2L1131.07 1301.69L1132.45 1300.19L1133.83 1298.69L1135.21 1297.18L1136.59 1295.68L1137.97 1294.18L1139.35 1292.67L1140.74 1291.17L1142.12 1289.67L1143.5 1288.17L1144.88 1286.67L1146.26 1285.16L1147.64 1283.66L1149.02 1282.16L1150.4 1280.66L1151.78 1279.16L1153.17 1277.65L1154.55 1276.15L1155.93 1274.65L1157.31 1273.15L1158.69 1271.65L1160.07 1270.15L1161.45 1268.65L1162.83 1267.15L1164.21 1265.65L1165.6 1264.15L1166.98 1262.65L1168.36 1261.15L1169.74 1259.65L1171.12 1258.15L1172.5 1256.65L1173.88 1255.16L1175.26 1253.66L1176.64 1252.16L1178.03 1250.66L1179.41 1249.17L1180.79 1247.67L1182.17 1246.17L1183.55 1244.68L1184.93 1243.18L1186.31 1241.69L1187.69 1240.19L1189.07 1238.7L1190.46 1237.2L1191.84 1235.71L1193.22 1234.22L1194.6 1232.73L1195.98 1231.23L1197.36 1229.74L1198.74 1228.25L1200.12 1226.76L1201.5 1225.28L1202.89 1223.79L1204.27 1222.3L1205.65 1220.81L1207.03 1219.33L1208.41 1217.84L1209.79 1216.36L1211.17 1214.88L1212.55 1213.39L1213.93 1211.91L1215.32 1210.43L1216.7 1208.96L1218.08 1207.48L1219.46 1206L1220.84 1204.53L1222.22 1203.05L1223.6 1201.58L1224.98 1200.11L1226.36 1198.64L1227.75 1197.17L1229.13 1195.71L1230.51 1194.24L1231.89 1192.78L1233.27 1191.32L1234.65 1189.86L1236.03 1188.41L1237.41 1186.95L1238.79 1185.5L1240.18 1184.05L1241.56 1182.6L1242.94 1181.16L1244.32 1179.72L1245.7 1178.28L1247.08 1176.84L1248.46 1175.41L1249.84 1173.98L1251.22 1172.55L1252.61 1171.13L1253.99 1169.71L1255.37 1168.29L1256.75 1166.88L1258.13 1165.47L1259.51 1164.06L1260.89 1162.66L1262.27 1161.27L1263.65 1159.87L1265.04 1158.49L1266.42 1157.1L1267.8 1155.73L1269.18 1154.35L1270.56 1152.99L1271.94 1151.62L1273.32 1150.27L1274.7 1148.92L1276.08 1147.57L1277.47 1146.24L1278.85 1144.9L1280.23 1143.58L1281.61 1142.26L1282.99 1140.95L1284.37 1139.64L1285.75 1138.35L1287.13 1137.06L1288.51 1135.78L1289.9 1134.5L1291.28 1133.24L1292.66 1131.98L1294.04 1130.73L1295.42 1129.49L1296.8 1128.26L1298.18 1127.04L1299.56 1125.82L1300.94 1124.62L1302.33 1123.43L1303.71 1122.24L1305.09 1121.07L1306.47 1119.9L1307.85 1118.75L1309.23 1117.61L1310.61 1116.47L1311.99 1115.35L1313.37 1114.24L1314.76 1113.14L1316.14 1112.05L1317.52 1110.97L1318.9 1109.9L1320.28 1108.85L1321.66 1107.8L1323.04 1106.77L1324.42 1105.75L1325.8 1104.74L1327.19 1103.74L1328.57 1102.75L1329.95 1101.77L1331.33 1100.81L1332.71 1099.86L1334.09 1098.91L1335.47 1097.98L1336.85 1097.07L1338.23 1096.16L1339.62 1095.26L1341 1094.38L1342.38 1093.51L1343.76 1092.65L1345.14 1091.8L1346.52 1090.96L1347.9 1090.13L1349.28 1089.31L1350.67 1088.51L1352.05 1087.71L1353.43 1086.93L1354.81 1086.15L1356.19 1085.39L1357.57 1084.64L1358.95 1083.89L1360.33 1083.16L1361.71 1082.44L1363.1 1081.73L1364.48 1081.02L1365.86 1080.33L1367.24 1079.64L1368.62 1078.97L1370 1078.3L1371.38 1077.65L1372.76 1077L1374.14 1076.36L1375.53 1075.73L1376.91 1075.11L1378.29 1074.5L1379.67 1073.89L1381.05 1073.29L1382.43 1072.71L1383.81 1072.12L1385.19 1071.55L1386.57 1070.98L1387.96 1070.43L1389.34 1069.87L1390.72 1069.33L1392.1 1068.79L1393.48 1068.26L1394.86 1067.74L1396.24 1067.22L1397.62 1066.71L1399 1066.21L1400.39 1065.71L1401.77 1065.22L1403.15 1064.74L1404.53 1064.26L1405.91 1063.78L1407.29 1063.32L1408.67 1062.85L1410.05 1062.4L1411.43 1061.95L1412.82 1061.5L1414.2 1061.06L1415.58 1060.63L1416.96 1060.2L1418.34 1059.77L1419.72 1059.35L1421.1 1058.93L1422.48 1058.52L1423.86 1058.12L1425.25 1057.71L1426.63 1057.32L1428.01 1056.92L1429.39 1056.54L1430.77 1056.15L1432.15 1055.77L1433.53 1055.39L1434.91 1055.02L1436.29 1054.65L1437.68 1054.29L1439.06 1053.93L1440.44 1053.57L1441.82 1053.21L1443.2 1052.86L1444.58 1052.52L1445.96 1052.17L1447.34 1051.83L1448.72 1051.5L1450.11 1051.16L1451.49 1050.83L1452.87 1050.51L1454.25 1050.18L1455.63 1049.86L1457.01 1049.54L1458.39 1049.23L1459.77 1048.92L1461.15 1048.61L1462.54 1048.3L1463.92 1048L1465.3 1047.7L1466.68 1047.4L1468.06 1047.1L1469.44 1046.81L1470.82 1046.52L1472.2 1046.23L1473.58 1045.94L1474.97 1045.66L1476.35 1045.38L1477.73 1045.1L1479.11 1044.82L1480.49 1044.55L1481.87 1044.28L1483.25 1044.01L1484.63 1043.74L1486.01 1043.47L1487.4 1043.21L1488.78 1042.95L1490.16 1042.69L1491.54 1042.43L1492.92 1042.18L1494.3 1041.93L1495.68 1041.67L1497.06 1041.42L1498.44 1041.18L1499.83 1040.93L1501.21 1040.69L1502.59 1040.45L1503.97 1040.2L1505.35 1039.97L1506.73 1039.73L1508.11 1039.49L1509.49 1039.26" fill="none" stroke="#000" stroke-width="4.2" stroke-linejoin="round" stroke-linecap="round" clip-path="url(#cc)"/>
<text transform="translate(160.9 924.5) scale(1 1.065)" font-size="46" text-anchor="middle" fill="#262626">0</text>
<text transform="translate(141.8 878.6) scale(1 1.065)" font-size="46" text-anchor="end" fill="#262626">0</text>
<text transform="translate(496.01 924.5) scale(1 1.065)" font-size="46" text-anchor="middle" fill="#262626">500</text>
<text transform="translate(141.8 679.88) scale(1 1.065)" font-size="46" text-anchor="end" fill="#262626">500</text>
<text transform="translate(831.12 924.5) scale(1 1.065)" font-size="46" text-anchor="middle" fill="#262626">1000</text>
<text transform="translate(141.8 481.15) scale(1 1.065)" font-size="46" text-anchor="end" fill="#262626">1000</text>
<text transform="translate(1166.24 924.5) scale(1 1.065)" font-size="46" text-anchor="middle" fill="#262626">1500</text>
<text transform="translate(141.8 282.43) scale(1 1.065)" font-size="46" text-anchor="end" fill="#262626">1500</text>
<text transform="translate(1501.35 924.5) scale(1 1.065)" font-size="46" text-anchor="middle" fill="#262626">2000</text>
<text transform="translate(141.8 83.7) scale(1 1.065)" font-size="46" text-anchor="end" fill="#262626">2000</text>
<text transform="translate(159.4 1594.7) scale(1 1.065)" font-size="46" text-anchor="middle" fill="#262626">10<tspan dy="-20" font-size="39">-8</tspan></text>
<text transform="translate(301.91 1594.7) scale(1 1.065)" font-size="46" text-anchor="middle" fill="#262626">10<tspan dy="-20" font-size="39">-6</tspan></text>
<text transform="translate(444.43 1594.7) scale(1 1.065)" font-size="46" text-anchor="middle" fill="#262626">10<tspan dy="-20" font-size="39">-4</tspan></text>
<text transform="translate(586.94 1594.7) scale(1 1.065)" font-size="46" text-anchor="middle" fill="#262626">10<tspan dy="-20" font-size="39">-2</tspan></text>
<text transform="translate(729.45 1594.7) scale(1 1.065)" font-size="46" text-anchor="middle" fill="#262626">10<tspan dy="-20" font-size="39">0</tspan></text>
<text transform="translate(142.5 1535.9) scale(1 1.065)" font-size="46" text-anchor="end" fill="#262626">0.6</text>
<text transform="translate(142.5 1391.21) scale(1 1.065)" font-size="46" text-anchor="end" fill="#262626">0.65</text>
<text transform="translate(142.5 1246.52) scale(1 1.065)" font-size="46" text-anchor="end" fill="#262626">0.7</text>
<text transform="translate(142.5 1101.83) scale(1 1.065)" font-size="46" text-anchor="end" fill="#262626">0.75</text>
<text transform="translate(1037.78 1594.7) scale(1 1.065)" font-size="46" text-anchor="middle" fill="#262626">10<tspan dy="-20" font-size="39">-4</tspan></text>
<text transform="translate(1175.89 1594.7) scale(1 1.065)" font-size="46" text-anchor="middle" fill="#262626">10<tspan dy="-20" font-size="39">-2</tspan></text>
<text transform="translate(1314 1594.7) scale(1 1.065)" font-size="46" text-anchor="middle" fill="#262626">10<tspan dy="-20" font-size="39">0</tspan></text>
<text transform="translate(1452.11 1594.7) scale(1 1.065)" font-size="46" text-anchor="middle" fill="#262626">10<tspan dy="-20" font-size="39">2</tspan></text>
<text transform="translate(910.5 1428.52) scale(1 1.065)" font-size="46" text-anchor="end" fill="#262626">10<tspan dy="-20" font-size="39">-4</tspan></text>
<text transform="translate(910.5 1278.05) scale(1 1.065)" font-size="46" text-anchor="end" fill="#262626">10<tspan dy="-20" font-size="39">-2</tspan></text>
<text transform="translate(910.5 1127.58) scale(1 1.065)" font-size="46" text-anchor="end" fill="#262626">10<tspan dy="-20" font-size="39">0</tspan></text>
<text x="831.1" y="38.7" font-size="54" text-anchor="middle" font-weight="bold" fill="#000">(a)</text>
<text x="445.9" y="998.7" font-size="54" text-anchor="middle" font-weight="bold" fill="#000">(b)</text>
<text x="1221.6" y="998.7" font-size="54" text-anchor="middle" font-weight="bold" fill="#000">(c)</text>
<text x="826.5" y="989.6" font-size="54" text-anchor="middle" font-weight="normal" fill="#262626">n</text>
<text x="443" y="1649" font-size="54" text-anchor="middle" fill="#262626" font-family='"Liberation Serif", "DejaVu Serif", serif'>ϵ</text>
<text x="1220" y="1648" font-size="54" text-anchor="middle" fill="#262626"><tspan font-family='"Liberation Serif", "DejaVu Serif", serif'>ϵ</tspan><tspan dx="2.5">an</tspan></text>
<text transform="translate(37.75 409.3) rotate(-90)" font-size="54" fill="#262626">E<tspan dx="2.5" dy="24.7" font-size="39">n</tspan></text>
<text transform="translate(45.2 1274.2) rotate(-90)" font-size="54" text-anchor="middle" fill="#262626">a</text>
<text transform="translate(798.2 1421.8) rotate(-90)" font-size="54" fill="#262626"><tspan font-family='"Liberation Serif", "DejaVu Serif", serif'>ϵ</tspan><tspan dx="2.5">a(E</tspan><tspan dx="1.5" dy="24.7" font-size="39">n</tspan><tspan dy="-24.7">-1/2)</tspan></text>
</svg>
</body></html>
